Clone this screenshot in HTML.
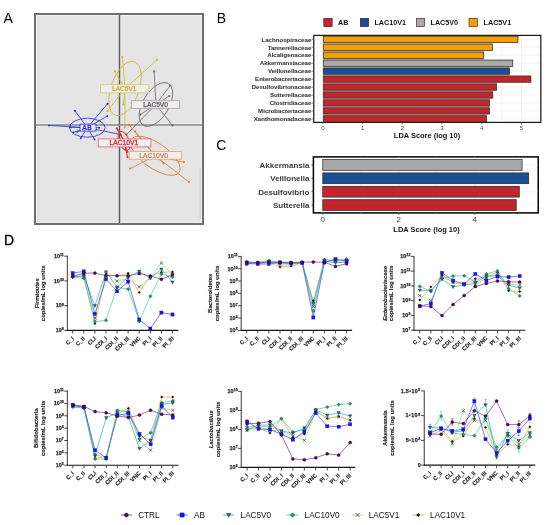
<!DOCTYPE html>
<html><head><meta charset="utf-8"><title>Figure</title>
<style>
html,body{margin:0;padding:0;background:#fff;}
body{width:550px;height:525px;overflow:hidden;}
svg{display:block;font-family:"Liberation Sans",sans-serif;}
</style></head><body>
<svg width="550" height="525" viewBox="0 0 550 525">
<text x="3.60" y="22.70" font-size="14" text-anchor="start" font-weight="normal" font-style="normal" fill="#000" >A</text>
<text x="216.80" y="23.20" font-size="14" text-anchor="start" font-weight="normal" font-style="normal" fill="#000" >B</text>
<text x="216.20" y="149.60" font-size="14" text-anchor="start" font-weight="normal" font-style="normal" fill="#000" >C</text>
<text x="4.00" y="245.20" font-size="14" text-anchor="start" font-weight="normal" font-style="normal" fill="#000" stroke="#000" stroke-width="0.3">D</text>
<rect x="35" y="14" width="168" height="210" fill="#e5e5e5" stroke="#6f6f6f" stroke-width="2"/>
<rect x="36.5" y="15.5" width="165" height="207" fill="none" stroke="#f2f2f2" stroke-width="1"/>
<line x1="200.3" y1="168" x2="200.3" y2="219" stroke="#c8c8c8" stroke-width="0.8"/>
<line x1="118.3" y1="15" x2="118.3" y2="223" stroke="#f0f0f0" stroke-width="0.7"/>
<line x1="120.7" y1="15" x2="120.7" y2="223" stroke="#f0f0f0" stroke-width="0.7"/>
<line x1="36" y1="123.6" x2="202" y2="123.6" stroke="#f2f2f2" stroke-width="0.7"/>
<line x1="36" y1="126.4" x2="202" y2="126.4" stroke="#f2f2f2" stroke-width="0.7"/>
<line x1="119.5" y1="15" x2="119.5" y2="223" stroke="#5a5a5a" stroke-width="1.5"/>
<line x1="36" y1="125.0" x2="202" y2="125.0" stroke="#8a8a8a" stroke-width="1.6"/>
<ellipse cx="125.0" cy="88.5" rx="14" ry="28.4" transform="rotate(19.5 125.0 88.5)" fill="none" stroke="#d4b52c" stroke-width="0.8"/>
<line x1="125.0" y1="88.5" x2="122.4" y2="56.9" stroke="#d4b52c" stroke-width="0.8"/>
<line x1="125.0" y1="88.5" x2="157.1" y2="59.8" stroke="#d4b52c" stroke-width="0.8"/>
<line x1="125.0" y1="88.5" x2="114.9" y2="71.3" stroke="#d4b52c" stroke-width="0.8"/>
<line x1="125.0" y1="88.5" x2="107.4" y2="111.2" stroke="#d4b52c" stroke-width="0.8"/>
<line x1="125.0" y1="88.5" x2="123.3" y2="104.5" stroke="#d4b52c" stroke-width="0.8"/>
<line x1="125.0" y1="88.5" x2="124.8" y2="127.4" stroke="#d4b52c" stroke-width="0.8"/>
<circle cx="122.4" cy="56.9" r="1.1" fill="#d4b52c"/>
<circle cx="157.1" cy="59.8" r="1.1" fill="#d4b52c"/>
<circle cx="114.9" cy="71.3" r="1.1" fill="#d4b52c"/>
<circle cx="107.4" cy="111.2" r="1.1" fill="#d4b52c"/>
<circle cx="123.3" cy="104.5" r="1.1" fill="#d4b52c"/>
<circle cx="124.8" cy="127.4" r="1.1" fill="#d4b52c"/>
<ellipse cx="155.9" cy="104.5" rx="13" ry="24.3" transform="rotate(31 155.9 104.5)" fill="none" stroke="#6e666e" stroke-width="0.8"/>
<line x1="155.9" y1="104.5" x2="154.2" y2="71.3" stroke="#6e666e" stroke-width="0.8"/>
<line x1="155.9" y1="104.5" x2="170.2" y2="85.5" stroke="#6e666e" stroke-width="0.8"/>
<line x1="155.9" y1="104.5" x2="169.2" y2="96" stroke="#6e666e" stroke-width="0.8"/>
<line x1="155.9" y1="104.5" x2="140.4" y2="114.6" stroke="#6e666e" stroke-width="0.8"/>
<line x1="155.9" y1="104.5" x2="172.4" y2="125.4" stroke="#6e666e" stroke-width="0.8"/>
<line x1="155.9" y1="104.5" x2="126.5" y2="134.5" stroke="#6e666e" stroke-width="0.8"/>
<circle cx="154.2" cy="71.3" r="1.1" fill="#6e666e"/>
<circle cx="170.2" cy="85.5" r="1.1" fill="#6e666e"/>
<circle cx="169.2" cy="96" r="1.1" fill="#6e666e"/>
<circle cx="140.4" cy="114.6" r="1.1" fill="#6e666e"/>
<circle cx="172.4" cy="125.4" r="1.1" fill="#6e666e"/>
<circle cx="126.5" cy="134.5" r="1.1" fill="#6e666e"/>
<ellipse cx="87.3" cy="127.7" rx="17.8" ry="9.5" transform="rotate(0 87.3 127.7)" fill="none" stroke="#2b2bd6" stroke-width="0.8"/>
<line x1="87.3" y1="127.7" x2="49" y2="125.5" stroke="#2b2bd6" stroke-width="0.8"/>
<line x1="87.3" y1="127.7" x2="74.9" y2="110.7" stroke="#2b2bd6" stroke-width="0.8"/>
<line x1="87.3" y1="127.7" x2="107.6" y2="103.7" stroke="#2b2bd6" stroke-width="0.8"/>
<line x1="87.3" y1="127.7" x2="107.2" y2="116.1" stroke="#2b2bd6" stroke-width="0.8"/>
<line x1="87.3" y1="127.7" x2="69.8" y2="127.3" stroke="#2b2bd6" stroke-width="0.8"/>
<line x1="87.3" y1="127.7" x2="73.2" y2="132.5" stroke="#2b2bd6" stroke-width="0.8"/>
<line x1="87.3" y1="127.7" x2="77.1" y2="131.7" stroke="#2b2bd6" stroke-width="0.8"/>
<line x1="87.3" y1="127.7" x2="80.7" y2="138.3" stroke="#2b2bd6" stroke-width="0.8"/>
<line x1="87.3" y1="127.7" x2="94.5" y2="139.4" stroke="#2b2bd6" stroke-width="0.8"/>
<line x1="87.3" y1="127.7" x2="99.3" y2="127.7" stroke="#2b2bd6" stroke-width="0.8"/>
<line x1="87.3" y1="127.7" x2="120.5" y2="134.5" stroke="#2b2bd6" stroke-width="0.8"/>
<circle cx="49" cy="125.5" r="1.0" fill="#2b2bd6"/>
<circle cx="74.9" cy="110.7" r="1.0" fill="#2b2bd6"/>
<circle cx="107.6" cy="103.7" r="1.0" fill="#2b2bd6"/>
<circle cx="107.2" cy="116.1" r="1.0" fill="#2b2bd6"/>
<circle cx="69.8" cy="127.3" r="1.0" fill="#2b2bd6"/>
<circle cx="73.2" cy="132.5" r="1.0" fill="#2b2bd6"/>
<circle cx="77.1" cy="131.7" r="1.0" fill="#2b2bd6"/>
<circle cx="80.7" cy="138.3" r="1.0" fill="#2b2bd6"/>
<circle cx="94.5" cy="139.4" r="1.0" fill="#2b2bd6"/>
<circle cx="99.3" cy="127.7" r="1.0" fill="#2b2bd6"/>
<circle cx="120.5" cy="134.5" r="1.0" fill="#2b2bd6"/>
<ellipse cx="155.3" cy="155.8" rx="29" ry="12.5" transform="rotate(35 155.3 155.8)" fill="none" stroke="#e07b30" stroke-width="0.8"/>
<line x1="155.3" y1="155.8" x2="128.8" y2="124.8" stroke="#e07b30" stroke-width="0.8"/>
<line x1="155.3" y1="155.8" x2="135.2" y2="131.5" stroke="#e07b30" stroke-width="0.8"/>
<line x1="155.3" y1="155.8" x2="130.1" y2="168.6" stroke="#e07b30" stroke-width="0.8"/>
<line x1="155.3" y1="155.8" x2="163.5" y2="163.5" stroke="#e07b30" stroke-width="0.8"/>
<line x1="155.3" y1="155.8" x2="183.9" y2="162.1" stroke="#e07b30" stroke-width="0.8"/>
<line x1="155.3" y1="155.8" x2="189" y2="182" stroke="#e07b30" stroke-width="0.8"/>
<circle cx="128.8" cy="124.8" r="1.1" fill="#e07b30"/>
<circle cx="135.2" cy="131.5" r="1.1" fill="#e07b30"/>
<circle cx="130.1" cy="168.6" r="1.1" fill="#e07b30"/>
<circle cx="163.5" cy="163.5" r="1.1" fill="#e07b30"/>
<circle cx="183.9" cy="162.1" r="1.1" fill="#e07b30"/>
<circle cx="189" cy="182" r="1.1" fill="#e07b30"/>
<ellipse cx="124.0" cy="141" rx="5" ry="10" transform="rotate(-22 124.0 141)" fill="none" stroke="#d8383c" stroke-width="1.0"/>
<line x1="124.0" y1="141" x2="116.9" y2="128.4" stroke="#d8383c" stroke-width="1.0"/>
<line x1="124.0" y1="141" x2="118.3" y2="130.5" stroke="#d8383c" stroke-width="1.0"/>
<line x1="124.0" y1="141" x2="120.3" y2="134.5" stroke="#d8383c" stroke-width="1.0"/>
<line x1="124.0" y1="141" x2="130.2" y2="147" stroke="#d8383c" stroke-width="1.0"/>
<line x1="124.0" y1="141" x2="127.5" y2="152" stroke="#d8383c" stroke-width="1.0"/>
<line x1="124.0" y1="141" x2="127.5" y2="157.3" stroke="#d8383c" stroke-width="1.0"/>
<line x1="124.0" y1="141" x2="126" y2="149.5" stroke="#d8383c" stroke-width="1.0"/>
<circle cx="116.9" cy="128.4" r="1.1" fill="#d8383c"/>
<circle cx="118.3" cy="130.5" r="1.1" fill="#d8383c"/>
<circle cx="120.3" cy="134.5" r="1.1" fill="#d8383c"/>
<circle cx="130.2" cy="147" r="1.1" fill="#d8383c"/>
<circle cx="127.5" cy="152" r="1.1" fill="#d8383c"/>
<circle cx="127.5" cy="157.3" r="1.1" fill="#d8383c"/>
<circle cx="126" cy="149.5" r="1.1" fill="#d8383c"/>
<rect x="100.6" y="84.7" width="48.30000000000001" height="8.200000000000003" fill="#efefef" stroke="#dcc660" stroke-width="0.8"/>
<text x="112.1" y="91.20" font-size="6.7" fill="#c8ad30" textLength="24.5" lengthAdjust="spacing" stroke="#c8ad30" stroke-width="0.25">LAC5V1</text>
<rect x="131.3" y="100.7" width="48.29999999999998" height="7.700000000000003" fill="#efefef" stroke="#a8a2a8" stroke-width="0.8"/>
<text x="143.3" y="106.95" font-size="6.7" fill="#5a545a" textLength="24.7" lengthAdjust="spacing" stroke="#5a545a" stroke-width="0.25">LAC5V0</text>
<rect x="80" y="124.1" width="16" height="7.0" fill="#efefef" stroke="#2b2bd6" stroke-width="0.8"/>
<text x="82.2" y="130.00" font-size="6.7" fill="#3030c8" textLength="9.4" lengthAdjust="spacing" stroke="#3030c8" stroke-width="0.4">AB</text>
<rect x="98.2" y="138.9" width="52.8" height="8.0" fill="#efefef" stroke="#e06070" stroke-width="0.8"/>
<text x="109.5" y="145.30" font-size="6.7" fill="#d23040" textLength="28.8" lengthAdjust="spacing" stroke="#d23040" stroke-width="0.35">LAC10V1</text>
<rect x="129.1" y="151.6" width="52.30000000000001" height="7.599999999999994" fill="#efefef" stroke="#e8a070" stroke-width="0.8"/>
<text x="139.3" y="157.80" font-size="6.7" fill="#d47a48" textLength="28.6" lengthAdjust="spacing" stroke="#d47a48" stroke-width="0.2">LAC10V0</text>
<rect x="323.8" y="18.3" width="8.4" height="8.4" fill="#c0262c" stroke="#3a1a1a" stroke-width="0.6"/>
<text x="338.00" y="25.00" font-size="7.2" text-anchor="start" font-weight="bold" font-style="normal" fill="#151515" >AB</text>
<rect x="360.3" y="18.3" width="8.4" height="8.4" fill="#1b4f95" stroke="#3a1a1a" stroke-width="0.6"/>
<text x="374.40" y="25.00" font-size="7.2" text-anchor="start" font-weight="bold" font-style="normal" fill="#151515" >LAC10V1</text>
<rect x="416.3" y="18.3" width="8.4" height="8.4" fill="#a9a9a9" stroke="#3a1a1a" stroke-width="0.6"/>
<text x="430.50" y="25.00" font-size="7.2" text-anchor="start" font-weight="bold" font-style="normal" fill="#151515" >LAC5V0</text>
<rect x="469.0" y="18.3" width="8.4" height="8.4" fill="#f3a008" stroke="#3a1a1a" stroke-width="0.6"/>
<text x="483.60" y="25.00" font-size="7.2" text-anchor="start" font-weight="bold" font-style="normal" fill="#151515" >LAC5V1</text>
<rect x="313.8" y="35.4" width="227" height="87" fill="#fff" stroke="#1a1a1a" stroke-width="1.25"/>
<line x1="322.90" y1="36" x2="322.90" y2="122" stroke="#ececec" stroke-width="0.8"/>
<line x1="342.75" y1="36" x2="342.75" y2="122" stroke="#ececec" stroke-width="0.5"/>
<line x1="362.60" y1="36" x2="362.60" y2="122" stroke="#ececec" stroke-width="0.8"/>
<line x1="382.45" y1="36" x2="382.45" y2="122" stroke="#ececec" stroke-width="0.5"/>
<line x1="402.30" y1="36" x2="402.30" y2="122" stroke="#ececec" stroke-width="0.8"/>
<line x1="422.15" y1="36" x2="422.15" y2="122" stroke="#ececec" stroke-width="0.5"/>
<line x1="442.00" y1="36" x2="442.00" y2="122" stroke="#ececec" stroke-width="0.8"/>
<line x1="461.85" y1="36" x2="461.85" y2="122" stroke="#ececec" stroke-width="0.5"/>
<line x1="481.70" y1="36" x2="481.70" y2="122" stroke="#ececec" stroke-width="0.8"/>
<line x1="501.55" y1="36" x2="501.55" y2="122" stroke="#ececec" stroke-width="0.5"/>
<line x1="521.40" y1="36" x2="521.40" y2="122" stroke="#ececec" stroke-width="0.8"/>
<rect x="323.30" y="42.50" width="169.20" height="1.65" fill="#c4ccd8"/>
<rect x="323.30" y="50.45" width="160.40" height="1.65" fill="#c4ccd8"/>
<rect x="323.30" y="58.40" width="160.40" height="1.65" fill="#c4ccd8"/>
<rect x="323.30" y="66.35" width="186.30" height="1.65" fill="#c4ccd8"/>
<rect x="323.30" y="74.30" width="186.30" height="1.65" fill="#c4ccd8"/>
<rect x="323.30" y="82.25" width="173.40" height="1.65" fill="#c4ccd8"/>
<rect x="323.30" y="90.20" width="169.50" height="1.65" fill="#c4ccd8"/>
<rect x="323.30" y="98.15" width="166.30" height="1.65" fill="#c4ccd8"/>
<rect x="323.30" y="106.10" width="166.30" height="1.65" fill="#c4ccd8"/>
<rect x="323.30" y="114.05" width="163.30" height="1.65" fill="#c4ccd8"/>
<line x1="314" y1="39.35" x2="540" y2="39.35" stroke="#ececec" stroke-width="0.6"/>
<rect x="323.30" y="36.20" width="194.70" height="6.3" fill="#f3a008" stroke="#3a2c22" stroke-width="0.75"/>
<line x1="311.6" y1="39.35" x2="313.8" y2="39.35" stroke="#333" stroke-width="0.6"/>
<text x="311.30" y="41.55" font-size="6.1" text-anchor="end" font-weight="bold" font-style="normal" fill="#383838" stroke="#383838" stroke-width="0.08">Lachnospiraceae</text>
<line x1="314" y1="47.30" x2="540" y2="47.30" stroke="#ececec" stroke-width="0.6"/>
<rect x="323.30" y="44.15" width="169.20" height="6.3" fill="#f3a008" stroke="#3a2c22" stroke-width="0.75"/>
<line x1="311.6" y1="47.30" x2="313.8" y2="47.30" stroke="#333" stroke-width="0.6"/>
<text x="311.30" y="49.50" font-size="6.1" text-anchor="end" font-weight="bold" font-style="normal" fill="#383838" stroke="#383838" stroke-width="0.08">Tannerellaceae</text>
<line x1="314" y1="55.25" x2="540" y2="55.25" stroke="#ececec" stroke-width="0.6"/>
<rect x="323.30" y="52.10" width="160.40" height="6.3" fill="#f3a008" stroke="#3a2c22" stroke-width="0.75"/>
<line x1="311.6" y1="55.25" x2="313.8" y2="55.25" stroke="#333" stroke-width="0.6"/>
<text x="311.30" y="57.45" font-size="6.1" text-anchor="end" font-weight="bold" font-style="normal" fill="#383838" stroke="#383838" stroke-width="0.08">Alcaligenaceae</text>
<line x1="314" y1="63.20" x2="540" y2="63.20" stroke="#ececec" stroke-width="0.6"/>
<rect x="323.30" y="60.05" width="189.50" height="6.3" fill="#a9a9a9" stroke="#3a2c22" stroke-width="0.75"/>
<line x1="311.6" y1="63.20" x2="313.8" y2="63.20" stroke="#333" stroke-width="0.6"/>
<text x="311.30" y="65.40" font-size="6.1" text-anchor="end" font-weight="bold" font-style="normal" fill="#383838" stroke="#383838" stroke-width="0.08">Akkermansiaceae</text>
<line x1="314" y1="71.15" x2="540" y2="71.15" stroke="#ececec" stroke-width="0.6"/>
<rect x="323.30" y="68.00" width="186.30" height="6.3" fill="#1b4f95" stroke="#3a2c22" stroke-width="0.75"/>
<line x1="311.6" y1="71.15" x2="313.8" y2="71.15" stroke="#333" stroke-width="0.6"/>
<text x="311.30" y="73.35" font-size="6.1" text-anchor="end" font-weight="bold" font-style="normal" fill="#383838" stroke="#383838" stroke-width="0.08">Veillonellaceae</text>
<line x1="314" y1="79.10" x2="540" y2="79.10" stroke="#ececec" stroke-width="0.6"/>
<rect x="323.30" y="75.95" width="207.60" height="6.3" fill="#c0262c" stroke="#3a2c22" stroke-width="0.75"/>
<line x1="311.6" y1="79.10" x2="313.8" y2="79.10" stroke="#333" stroke-width="0.6"/>
<text x="311.30" y="81.30" font-size="6.1" text-anchor="end" font-weight="bold" font-style="normal" fill="#383838" stroke="#383838" stroke-width="0.08">Enterobacteriaceae</text>
<line x1="314" y1="87.05" x2="540" y2="87.05" stroke="#ececec" stroke-width="0.6"/>
<rect x="323.30" y="83.90" width="173.40" height="6.3" fill="#c0262c" stroke="#3a2c22" stroke-width="0.75"/>
<line x1="311.6" y1="87.05" x2="313.8" y2="87.05" stroke="#333" stroke-width="0.6"/>
<text x="311.30" y="89.25" font-size="6.1" text-anchor="end" font-weight="bold" font-style="normal" fill="#383838" stroke="#383838" stroke-width="0.08">Desulfovibrionaceae</text>
<line x1="314" y1="95.00" x2="540" y2="95.00" stroke="#ececec" stroke-width="0.6"/>
<rect x="323.30" y="91.85" width="169.50" height="6.3" fill="#c0262c" stroke="#3a2c22" stroke-width="0.75"/>
<line x1="311.6" y1="95.00" x2="313.8" y2="95.00" stroke="#333" stroke-width="0.6"/>
<text x="311.30" y="97.20" font-size="6.1" text-anchor="end" font-weight="bold" font-style="normal" fill="#383838" stroke="#383838" stroke-width="0.08">Sutterellaceae</text>
<line x1="314" y1="102.95" x2="540" y2="102.95" stroke="#ececec" stroke-width="0.6"/>
<rect x="323.30" y="99.80" width="166.30" height="6.3" fill="#c0262c" stroke="#3a2c22" stroke-width="0.75"/>
<line x1="311.6" y1="102.95" x2="313.8" y2="102.95" stroke="#333" stroke-width="0.6"/>
<text x="311.30" y="105.15" font-size="6.1" text-anchor="end" font-weight="bold" font-style="normal" fill="#383838" stroke="#383838" stroke-width="0.08">Clostridiaceae</text>
<line x1="314" y1="110.90" x2="540" y2="110.90" stroke="#ececec" stroke-width="0.6"/>
<rect x="323.30" y="107.75" width="166.30" height="6.3" fill="#c0262c" stroke="#3a2c22" stroke-width="0.75"/>
<line x1="311.6" y1="110.90" x2="313.8" y2="110.90" stroke="#333" stroke-width="0.6"/>
<text x="311.30" y="113.10" font-size="6.1" text-anchor="end" font-weight="bold" font-style="normal" fill="#383838" stroke="#383838" stroke-width="0.08">Microbacteriaceae</text>
<line x1="314" y1="118.85" x2="540" y2="118.85" stroke="#ececec" stroke-width="0.6"/>
<rect x="323.30" y="115.70" width="163.30" height="6.3" fill="#c0262c" stroke="#3a2c22" stroke-width="0.75"/>
<line x1="311.6" y1="118.85" x2="313.8" y2="118.85" stroke="#333" stroke-width="0.6"/>
<text x="311.30" y="121.05" font-size="6.1" text-anchor="end" font-weight="bold" font-style="normal" fill="#383838" stroke="#383838" stroke-width="0.08">Xanthomonadaceae</text>
<line x1="322.90" y1="122.4" x2="322.90" y2="124.4" stroke="#333" stroke-width="0.6"/>
<text x="322.90" y="130.00" font-size="6.0" text-anchor="middle" font-weight="normal" font-style="normal" fill="#444" >0</text>
<line x1="362.60" y1="122.4" x2="362.60" y2="124.4" stroke="#333" stroke-width="0.6"/>
<text x="362.60" y="130.00" font-size="6.0" text-anchor="middle" font-weight="normal" font-style="normal" fill="#444" >1</text>
<line x1="402.30" y1="122.4" x2="402.30" y2="124.4" stroke="#333" stroke-width="0.6"/>
<text x="402.30" y="130.00" font-size="6.0" text-anchor="middle" font-weight="normal" font-style="normal" fill="#444" >2</text>
<line x1="442.00" y1="122.4" x2="442.00" y2="124.4" stroke="#333" stroke-width="0.6"/>
<text x="442.00" y="130.00" font-size="6.0" text-anchor="middle" font-weight="normal" font-style="normal" fill="#444" >3</text>
<line x1="481.70" y1="122.4" x2="481.70" y2="124.4" stroke="#333" stroke-width="0.6"/>
<text x="481.70" y="130.00" font-size="6.0" text-anchor="middle" font-weight="normal" font-style="normal" fill="#444" >4</text>
<line x1="521.40" y1="122.4" x2="521.40" y2="124.4" stroke="#333" stroke-width="0.6"/>
<text x="521.40" y="130.00" font-size="6.0" text-anchor="middle" font-weight="normal" font-style="normal" fill="#444" >5</text>
<text x="427.00" y="138.40" font-size="7.45" text-anchor="middle" font-weight="bold" font-style="normal" fill="#111" >LDA Score (log 10)</text>
<rect x="313.4" y="156.9" width="224.8" height="56" fill="#fff" stroke="#000" stroke-width="1.5"/>
<line x1="322.80" y1="157.5" x2="322.80" y2="212.5" stroke="#ededed" stroke-width="0.8"/>
<line x1="360.80" y1="157.5" x2="360.80" y2="212.5" stroke="#ededed" stroke-width="0.5"/>
<line x1="398.80" y1="157.5" x2="398.80" y2="212.5" stroke="#ededed" stroke-width="0.8"/>
<line x1="436.80" y1="157.5" x2="436.80" y2="212.5" stroke="#ededed" stroke-width="0.5"/>
<line x1="474.80" y1="157.5" x2="474.80" y2="212.5" stroke="#ededed" stroke-width="0.8"/>
<line x1="512.80" y1="157.5" x2="512.80" y2="212.5" stroke="#ededed" stroke-width="0.5"/>
<line x1="314" y1="164.90" x2="538" y2="164.90" stroke="#ededed" stroke-width="0.6"/>
<rect x="322.80" y="159.50" width="199.30" height="10.8" fill="#a9a9a9" stroke="#2a1f1f" stroke-width="0.7"/>
<line x1="311.2" y1="164.90" x2="313.4" y2="164.90" stroke="#333" stroke-width="0.6"/>
<text x="309.40" y="167.80" font-size="8.0" text-anchor="end" font-weight="bold" font-style="normal" fill="#3a3a3a" >Akkermansia</text>
<line x1="314" y1="178.30" x2="538" y2="178.30" stroke="#ededed" stroke-width="0.6"/>
<rect x="322.80" y="172.90" width="205.90" height="10.8" fill="#1b4f95" stroke="#2a1f1f" stroke-width="0.7"/>
<line x1="311.2" y1="178.30" x2="313.4" y2="178.30" stroke="#333" stroke-width="0.6"/>
<text x="309.40" y="181.20" font-size="8.0" text-anchor="end" font-weight="bold" font-style="normal" fill="#3a3a3a" >Veillonella</text>
<line x1="314" y1="191.70" x2="538" y2="191.70" stroke="#ededed" stroke-width="0.6"/>
<rect x="322.80" y="186.30" width="196.50" height="10.8" fill="#c0262c" stroke="#2a1f1f" stroke-width="0.7"/>
<line x1="311.2" y1="191.70" x2="313.4" y2="191.70" stroke="#333" stroke-width="0.6"/>
<text x="309.40" y="194.60" font-size="8.0" text-anchor="end" font-weight="bold" font-style="normal" fill="#3a3a3a" >Desulfovibrio</text>
<line x1="314" y1="205.10" x2="538" y2="205.10" stroke="#ededed" stroke-width="0.6"/>
<rect x="322.80" y="199.70" width="193.40" height="10.8" fill="#c0262c" stroke="#2a1f1f" stroke-width="0.7"/>
<line x1="311.2" y1="205.10" x2="313.4" y2="205.10" stroke="#333" stroke-width="0.6"/>
<text x="309.40" y="208.00" font-size="8.0" text-anchor="end" font-weight="bold" font-style="normal" fill="#3a3a3a" >Sutterella</text>
<line x1="322.80" y1="212.9" x2="322.80" y2="215" stroke="#333" stroke-width="0.6"/>
<text x="322.80" y="222.40" font-size="7.9" text-anchor="middle" font-weight="normal" font-style="normal" fill="#404040" >0</text>
<line x1="398.80" y1="212.9" x2="398.80" y2="215" stroke="#333" stroke-width="0.6"/>
<text x="398.80" y="222.40" font-size="7.9" text-anchor="middle" font-weight="normal" font-style="normal" fill="#404040" >2</text>
<line x1="474.80" y1="212.9" x2="474.80" y2="215" stroke="#333" stroke-width="0.6"/>
<text x="474.80" y="222.40" font-size="7.9" text-anchor="middle" font-weight="normal" font-style="normal" fill="#404040" >4</text>
<text x="426.50" y="232.20" font-size="7.45" text-anchor="middle" font-weight="bold" font-style="normal" fill="#111" >LDA Score (log 10)</text>
<line x1="67.40" y1="255.70" x2="67.40" y2="330.90" stroke="#5e5e5e" stroke-width="1.25"/>
<line x1="66.90" y1="330.40" x2="178.30" y2="330.40" stroke="#151515" stroke-width="1.15"/>
<line x1="64.30" y1="256.20" x2="67.40" y2="256.20" stroke="#333" stroke-width="0.9"/>
<text x="63.80" y="258.00" font-size="5.4" text-anchor="end" font-weight="bold" fill="#2a2a2a" stroke="#2a2a2a" stroke-width="0.25">10<tspan font-size="3.5" dy="-1.9" dx="0.2">11</tspan></text>
<line x1="64.30" y1="280.93" x2="67.40" y2="280.93" stroke="#333" stroke-width="0.9"/>
<text x="63.80" y="282.73" font-size="5.4" text-anchor="end" font-weight="bold" fill="#2a2a2a" stroke="#2a2a2a" stroke-width="0.25">10<tspan font-size="3.5" dy="-1.9" dx="0.2">10</tspan></text>
<line x1="64.30" y1="305.66" x2="67.40" y2="305.66" stroke="#333" stroke-width="0.9"/>
<text x="63.80" y="307.46" font-size="5.4" text-anchor="end" font-weight="bold" fill="#2a2a2a" stroke="#2a2a2a" stroke-width="0.25">10<tspan font-size="3.5" dy="-1.9" dx="0.2">9</tspan></text>
<line x1="64.30" y1="330.39" x2="67.40" y2="330.39" stroke="#333" stroke-width="0.9"/>
<text x="63.80" y="332.19" font-size="5.4" text-anchor="end" font-weight="bold" fill="#2a2a2a" stroke="#2a2a2a" stroke-width="0.25">10<tspan font-size="3.5" dy="-1.9" dx="0.2">8</tspan></text>
<line x1="72.70" y1="330.40" x2="72.70" y2="333.50" stroke="#333" stroke-width="0.9"/>
<text x="0" y="0" font-size="5.7" text-anchor="end" font-weight="bold" fill="#222" stroke="#222" stroke-width="0.15" transform="translate(74.25,338.90) rotate(-45)">C_I</text>
<line x1="83.79" y1="330.40" x2="83.79" y2="333.50" stroke="#333" stroke-width="0.9"/>
<text x="0" y="0" font-size="5.7" text-anchor="end" font-weight="bold" fill="#222" stroke="#222" stroke-width="0.15" transform="translate(85.34,338.90) rotate(-45)">C_II</text>
<line x1="94.88" y1="330.40" x2="94.88" y2="333.50" stroke="#333" stroke-width="0.9"/>
<text x="0" y="0" font-size="5.7" text-anchor="end" font-weight="bold" fill="#222" stroke="#222" stroke-width="0.15" transform="translate(96.43,338.90) rotate(-45)">CLI</text>
<line x1="105.97" y1="330.40" x2="105.97" y2="333.50" stroke="#333" stroke-width="0.9"/>
<text x="0" y="0" font-size="5.7" text-anchor="end" font-weight="bold" fill="#222" stroke="#222" stroke-width="0.15" transform="translate(107.52,338.90) rotate(-45)">CDI_I</text>
<line x1="117.06" y1="330.40" x2="117.06" y2="333.50" stroke="#333" stroke-width="0.9"/>
<text x="0" y="0" font-size="5.7" text-anchor="end" font-weight="bold" fill="#222" stroke="#222" stroke-width="0.15" transform="translate(118.61,338.90) rotate(-45)">CDI_II</text>
<line x1="128.15" y1="330.40" x2="128.15" y2="333.50" stroke="#333" stroke-width="0.9"/>
<text x="0" y="0" font-size="5.7" text-anchor="end" font-weight="bold" fill="#222" stroke="#222" stroke-width="0.15" transform="translate(129.70,338.90) rotate(-45)">CDI_III</text>
<line x1="139.24" y1="330.40" x2="139.24" y2="333.50" stroke="#333" stroke-width="0.9"/>
<text x="0" y="0" font-size="5.7" text-anchor="end" font-weight="bold" fill="#222" stroke="#222" stroke-width="0.15" transform="translate(140.79,338.90) rotate(-45)">VNC</text>
<line x1="150.33" y1="330.40" x2="150.33" y2="333.50" stroke="#333" stroke-width="0.9"/>
<text x="0" y="0" font-size="5.7" text-anchor="end" font-weight="bold" fill="#222" stroke="#222" stroke-width="0.15" transform="translate(151.88,338.90) rotate(-45)">PI_I</text>
<line x1="161.42" y1="330.40" x2="161.42" y2="333.50" stroke="#333" stroke-width="0.9"/>
<text x="0" y="0" font-size="5.7" text-anchor="end" font-weight="bold" fill="#222" stroke="#222" stroke-width="0.15" transform="translate(162.97,338.90) rotate(-45)">PI_II</text>
<line x1="172.51" y1="330.40" x2="172.51" y2="333.50" stroke="#333" stroke-width="0.9"/>
<text x="0" y="0" font-size="5.7" text-anchor="end" font-weight="bold" fill="#222" stroke="#222" stroke-width="0.15" transform="translate(174.06,338.90) rotate(-45)">PI_III</text>
<text x="0" y="0" font-size="5.95" text-anchor="middle" font-weight="bold" font-style="normal" fill="#222" stroke="#222" stroke-width="0.12" transform="translate(38.60,293.30) rotate(-90)">Firmicutes</text>
<text x="0" y="0" font-size="5.95" text-anchor="middle" font-weight="bold" fill="#222" stroke="#222" stroke-width="0.12" transform="translate(45.30,293.30) rotate(-90)">copies/mL log units</text>
<polyline points="72.70,275.00 83.79,275.00 94.88,323.60 105.97,274.00 117.06,276.00 128.15,273.20 139.24,292.40 150.33,276.00 161.42,272.30 172.51,272.00" fill="none" stroke="#f6a24a" stroke-width="0.72"/>
<polyline points="72.70,276.00 83.79,277.00 94.88,318.00 105.97,274.00 117.06,280.90 128.15,279.00 139.24,286.90 150.33,278.00 161.42,262.90 172.51,275.00" fill="none" stroke="#94e27c" stroke-width="0.72"/>
<polyline points="72.70,277.00 83.79,278.30 94.88,321.60 105.97,320.30 117.06,287.40 128.15,289.10 139.24,321.20 150.33,296.30 161.42,274.00 172.51,277.10" fill="none" stroke="#4cc9a0" stroke-width="0.72"/>
<polyline points="72.70,277.00 83.79,276.00 94.88,305.80 105.97,272.00 117.06,287.20 128.15,277.00 139.24,271.40 150.33,278.30 161.42,269.20 172.51,282.20" fill="none" stroke="#36aebe" stroke-width="0.72"/>
<polyline points="72.70,273.10 83.79,271.40 94.88,313.90 105.97,279.20 117.06,291.30 128.15,281.70 139.24,319.50 150.33,328.60 161.42,312.60 172.51,314.50" fill="none" stroke="#4a4af5" stroke-width="0.72"/>
<polyline points="72.70,276.50 83.79,273.10 94.88,273.10 105.97,275.70 117.06,275.70 128.15,275.70 139.24,273.50 150.33,276.00 161.42,279.20 172.51,274.50" fill="none" stroke="#7b3b8b" stroke-width="0.72"/>
<path d="M72.70,273.48L73.38,274.32L74.22,275.00L73.38,275.68L72.70,276.52L72.02,275.68L71.18,275.00L72.02,274.32Z" fill="#111"/>
<path d="M83.79,273.48L84.47,274.32L85.31,275.00L84.47,275.68L83.79,276.52L83.11,275.68L82.27,275.00L83.11,274.32Z" fill="#111"/>
<path d="M94.88,322.08L95.56,322.92L96.40,323.60L95.56,324.28L94.88,325.12L94.20,324.28L93.36,323.60L94.20,322.92Z" fill="#111"/>
<path d="M105.97,272.48L106.65,273.32L107.49,274.00L106.65,274.68L105.97,275.52L105.29,274.68L104.45,274.00L105.29,273.32Z" fill="#111"/>
<path d="M117.06,274.48L117.74,275.32L118.58,276.00L117.74,276.68L117.06,277.52L116.38,276.68L115.54,276.00L116.38,275.32Z" fill="#111"/>
<path d="M128.15,271.68L128.83,272.52L129.67,273.20L128.83,273.88L128.15,274.72L127.47,273.88L126.63,273.20L127.47,272.52Z" fill="#111"/>
<path d="M139.24,290.88L139.92,291.72L140.76,292.40L139.92,293.08L139.24,293.92L138.56,293.08L137.72,292.40L138.56,291.72Z" fill="#111"/>
<path d="M150.33,274.48L151.01,275.32L151.85,276.00L151.01,276.68L150.33,277.52L149.65,276.68L148.81,276.00L149.65,275.32Z" fill="#111"/>
<path d="M161.42,270.78L162.10,271.62L162.94,272.30L162.10,272.98L161.42,273.82L160.74,272.98L159.90,272.30L160.74,271.62Z" fill="#111"/>
<path d="M172.51,270.48L173.19,271.32L174.03,272.00L173.19,272.68L172.51,273.52L171.83,272.68L170.99,272.00L171.83,271.32Z" fill="#111"/>
<path d="M71.18,274.48L74.22,277.52M71.18,277.52L74.22,274.48" stroke="#444" stroke-width="0.75" fill="none"/>
<path d="M82.27,275.48L85.31,278.52M82.27,278.52L85.31,275.48" stroke="#444" stroke-width="0.75" fill="none"/>
<path d="M93.36,316.48L96.40,319.52M93.36,319.52L96.40,316.48" stroke="#444" stroke-width="0.75" fill="none"/>
<path d="M104.45,272.48L107.49,275.52M104.45,275.52L107.49,272.48" stroke="#444" stroke-width="0.75" fill="none"/>
<path d="M115.54,279.38L118.58,282.42M115.54,282.42L118.58,279.38" stroke="#444" stroke-width="0.75" fill="none"/>
<path d="M126.63,277.48L129.67,280.52M126.63,280.52L129.67,277.48" stroke="#444" stroke-width="0.75" fill="none"/>
<path d="M137.72,285.38L140.76,288.42M137.72,288.42L140.76,285.38" stroke="#444" stroke-width="0.75" fill="none"/>
<path d="M148.81,276.48L151.85,279.52M148.81,279.52L151.85,276.48" stroke="#444" stroke-width="0.75" fill="none"/>
<path d="M159.90,261.38L162.94,264.42M159.90,264.42L162.94,261.38" stroke="#444" stroke-width="0.75" fill="none"/>
<path d="M170.99,273.48L174.03,276.52M170.99,276.52L174.03,273.48" stroke="#444" stroke-width="0.75" fill="none"/>
<path d="M72.70,275.32L74.38,277.00L72.70,278.68L71.02,277.00Z" fill="#1f9a6e" stroke="#104030" stroke-width="0.4"/>
<path d="M83.79,276.62L85.47,278.30L83.79,279.98L82.11,278.30Z" fill="#1f9a6e" stroke="#104030" stroke-width="0.4"/>
<path d="M94.88,319.92L96.56,321.60L94.88,323.28L93.20,321.60Z" fill="#1f9a6e" stroke="#104030" stroke-width="0.4"/>
<path d="M105.97,318.62L107.65,320.30L105.97,321.98L104.29,320.30Z" fill="#1f9a6e" stroke="#104030" stroke-width="0.4"/>
<path d="M117.06,285.72L118.74,287.40L117.06,289.08L115.38,287.40Z" fill="#1f9a6e" stroke="#104030" stroke-width="0.4"/>
<path d="M128.15,287.42L129.83,289.10L128.15,290.78L126.47,289.10Z" fill="#1f9a6e" stroke="#104030" stroke-width="0.4"/>
<path d="M139.24,319.52L140.92,321.20L139.24,322.88L137.56,321.20Z" fill="#1f9a6e" stroke="#104030" stroke-width="0.4"/>
<path d="M150.33,294.62L152.01,296.30L150.33,297.98L148.65,296.30Z" fill="#1f9a6e" stroke="#104030" stroke-width="0.4"/>
<path d="M161.42,272.32L163.10,274.00L161.42,275.68L159.74,274.00Z" fill="#1f9a6e" stroke="#104030" stroke-width="0.4"/>
<path d="M172.51,275.42L174.19,277.10L172.51,278.78L170.83,277.10Z" fill="#1f9a6e" stroke="#104030" stroke-width="0.4"/>
<path d="M71.02,275.72L74.38,275.72L72.70,278.76Z" fill="#1f6f78" stroke="#0e3338" stroke-width="0.4"/>
<path d="M82.11,274.72L85.47,274.72L83.79,277.76Z" fill="#1f6f78" stroke="#0e3338" stroke-width="0.4"/>
<path d="M93.20,304.52L96.56,304.52L94.88,307.56Z" fill="#1f6f78" stroke="#0e3338" stroke-width="0.4"/>
<path d="M104.29,270.72L107.65,270.72L105.97,273.76Z" fill="#1f6f78" stroke="#0e3338" stroke-width="0.4"/>
<path d="M115.38,285.92L118.74,285.92L117.06,288.96Z" fill="#1f6f78" stroke="#0e3338" stroke-width="0.4"/>
<path d="M126.47,275.72L129.83,275.72L128.15,278.76Z" fill="#1f6f78" stroke="#0e3338" stroke-width="0.4"/>
<path d="M137.56,270.12L140.92,270.12L139.24,273.16Z" fill="#1f6f78" stroke="#0e3338" stroke-width="0.4"/>
<path d="M148.65,277.02L152.01,277.02L150.33,280.06Z" fill="#1f6f78" stroke="#0e3338" stroke-width="0.4"/>
<path d="M159.74,267.92L163.10,267.92L161.42,270.96Z" fill="#1f6f78" stroke="#0e3338" stroke-width="0.4"/>
<path d="M170.83,280.92L174.19,280.92L172.51,283.96Z" fill="#1f6f78" stroke="#0e3338" stroke-width="0.4"/>
<rect x="71.10" y="271.50" width="3.20" height="3.20" fill="#1414f0" stroke="#0a0aa0" stroke-width="0.3"/>
<rect x="82.19" y="269.80" width="3.20" height="3.20" fill="#1414f0" stroke="#0a0aa0" stroke-width="0.3"/>
<rect x="93.28" y="312.30" width="3.20" height="3.20" fill="#1414f0" stroke="#0a0aa0" stroke-width="0.3"/>
<rect x="104.37" y="277.60" width="3.20" height="3.20" fill="#1414f0" stroke="#0a0aa0" stroke-width="0.3"/>
<rect x="115.46" y="289.70" width="3.20" height="3.20" fill="#1414f0" stroke="#0a0aa0" stroke-width="0.3"/>
<rect x="126.55" y="280.10" width="3.20" height="3.20" fill="#1414f0" stroke="#0a0aa0" stroke-width="0.3"/>
<rect x="137.64" y="317.90" width="3.20" height="3.20" fill="#1414f0" stroke="#0a0aa0" stroke-width="0.3"/>
<rect x="148.73" y="327.00" width="3.20" height="3.20" fill="#1414f0" stroke="#0a0aa0" stroke-width="0.3"/>
<rect x="159.82" y="311.00" width="3.20" height="3.20" fill="#1414f0" stroke="#0a0aa0" stroke-width="0.3"/>
<rect x="170.91" y="312.90" width="3.20" height="3.20" fill="#1414f0" stroke="#0a0aa0" stroke-width="0.3"/>
<circle cx="72.70" cy="276.50" r="1.52" fill="#4d0a59" stroke="#2a0030" stroke-width="0.4"/>
<circle cx="83.79" cy="273.10" r="1.52" fill="#4d0a59" stroke="#2a0030" stroke-width="0.4"/>
<circle cx="94.88" cy="273.10" r="1.52" fill="#4d0a59" stroke="#2a0030" stroke-width="0.4"/>
<circle cx="105.97" cy="275.70" r="1.52" fill="#4d0a59" stroke="#2a0030" stroke-width="0.4"/>
<circle cx="117.06" cy="275.70" r="1.52" fill="#4d0a59" stroke="#2a0030" stroke-width="0.4"/>
<circle cx="128.15" cy="275.70" r="1.52" fill="#4d0a59" stroke="#2a0030" stroke-width="0.4"/>
<circle cx="139.24" cy="273.50" r="1.52" fill="#4d0a59" stroke="#2a0030" stroke-width="0.4"/>
<circle cx="150.33" cy="276.00" r="1.52" fill="#4d0a59" stroke="#2a0030" stroke-width="0.4"/>
<circle cx="161.42" cy="279.20" r="1.52" fill="#4d0a59" stroke="#2a0030" stroke-width="0.4"/>
<circle cx="172.51" cy="274.50" r="1.52" fill="#4d0a59" stroke="#2a0030" stroke-width="0.4"/>
<line x1="241.20" y1="255.90" x2="241.20" y2="330.80" stroke="#5e5e5e" stroke-width="1.25"/>
<line x1="240.70" y1="330.30" x2="352.10" y2="330.30" stroke="#151515" stroke-width="1.15"/>
<line x1="238.10" y1="256.40" x2="241.20" y2="256.40" stroke="#333" stroke-width="0.9"/>
<text x="237.60" y="258.20" font-size="5.4" text-anchor="end" font-weight="bold" fill="#2a2a2a" stroke="#2a2a2a" stroke-width="0.25">10<tspan font-size="3.5" dy="-1.9" dx="0.2">11</tspan></text>
<line x1="238.10" y1="268.72" x2="241.20" y2="268.72" stroke="#333" stroke-width="0.9"/>
<text x="237.60" y="270.52" font-size="5.4" text-anchor="end" font-weight="bold" fill="#2a2a2a" stroke="#2a2a2a" stroke-width="0.25">10<tspan font-size="3.5" dy="-1.9" dx="0.2">10</tspan></text>
<line x1="238.10" y1="281.04" x2="241.20" y2="281.04" stroke="#333" stroke-width="0.9"/>
<text x="237.60" y="282.84" font-size="5.4" text-anchor="end" font-weight="bold" fill="#2a2a2a" stroke="#2a2a2a" stroke-width="0.25">10<tspan font-size="3.5" dy="-1.9" dx="0.2">9</tspan></text>
<line x1="238.10" y1="293.36" x2="241.20" y2="293.36" stroke="#333" stroke-width="0.9"/>
<text x="237.60" y="295.16" font-size="5.4" text-anchor="end" font-weight="bold" fill="#2a2a2a" stroke="#2a2a2a" stroke-width="0.25">10<tspan font-size="3.5" dy="-1.9" dx="0.2">8</tspan></text>
<line x1="238.10" y1="305.68" x2="241.20" y2="305.68" stroke="#333" stroke-width="0.9"/>
<text x="237.60" y="307.48" font-size="5.4" text-anchor="end" font-weight="bold" fill="#2a2a2a" stroke="#2a2a2a" stroke-width="0.25">10<tspan font-size="3.5" dy="-1.9" dx="0.2">7</tspan></text>
<line x1="238.10" y1="318.00" x2="241.20" y2="318.00" stroke="#333" stroke-width="0.9"/>
<text x="237.60" y="319.80" font-size="5.4" text-anchor="end" font-weight="bold" fill="#2a2a2a" stroke="#2a2a2a" stroke-width="0.25">10<tspan font-size="3.5" dy="-1.9" dx="0.2">6</tspan></text>
<line x1="238.10" y1="330.32" x2="241.20" y2="330.32" stroke="#333" stroke-width="0.9"/>
<text x="237.60" y="332.12" font-size="5.4" text-anchor="end" font-weight="bold" fill="#2a2a2a" stroke="#2a2a2a" stroke-width="0.25">10<tspan font-size="3.5" dy="-1.9" dx="0.2">5</tspan></text>
<line x1="246.70" y1="330.30" x2="246.70" y2="333.40" stroke="#333" stroke-width="0.9"/>
<text x="0" y="0" font-size="5.7" text-anchor="end" font-weight="bold" fill="#222" stroke="#222" stroke-width="0.15" transform="translate(248.25,338.80) rotate(-45)">C_I</text>
<line x1="257.80" y1="330.30" x2="257.80" y2="333.40" stroke="#333" stroke-width="0.9"/>
<text x="0" y="0" font-size="5.7" text-anchor="end" font-weight="bold" fill="#222" stroke="#222" stroke-width="0.15" transform="translate(259.35,338.80) rotate(-45)">C_II</text>
<line x1="268.90" y1="330.30" x2="268.90" y2="333.40" stroke="#333" stroke-width="0.9"/>
<text x="0" y="0" font-size="5.7" text-anchor="end" font-weight="bold" fill="#222" stroke="#222" stroke-width="0.15" transform="translate(270.45,338.80) rotate(-45)">CLI</text>
<line x1="280.00" y1="330.30" x2="280.00" y2="333.40" stroke="#333" stroke-width="0.9"/>
<text x="0" y="0" font-size="5.7" text-anchor="end" font-weight="bold" fill="#222" stroke="#222" stroke-width="0.15" transform="translate(281.55,338.80) rotate(-45)">CDI_I</text>
<line x1="291.10" y1="330.30" x2="291.10" y2="333.40" stroke="#333" stroke-width="0.9"/>
<text x="0" y="0" font-size="5.7" text-anchor="end" font-weight="bold" fill="#222" stroke="#222" stroke-width="0.15" transform="translate(292.65,338.80) rotate(-45)">CDI_II</text>
<line x1="302.20" y1="330.30" x2="302.20" y2="333.40" stroke="#333" stroke-width="0.9"/>
<text x="0" y="0" font-size="5.7" text-anchor="end" font-weight="bold" fill="#222" stroke="#222" stroke-width="0.15" transform="translate(303.75,338.80) rotate(-45)">CDI_III</text>
<line x1="313.30" y1="330.30" x2="313.30" y2="333.40" stroke="#333" stroke-width="0.9"/>
<text x="0" y="0" font-size="5.7" text-anchor="end" font-weight="bold" fill="#222" stroke="#222" stroke-width="0.15" transform="translate(314.85,338.80) rotate(-45)">VNC</text>
<line x1="324.40" y1="330.30" x2="324.40" y2="333.40" stroke="#333" stroke-width="0.9"/>
<text x="0" y="0" font-size="5.7" text-anchor="end" font-weight="bold" fill="#222" stroke="#222" stroke-width="0.15" transform="translate(325.95,338.80) rotate(-45)">PI_I</text>
<line x1="335.50" y1="330.30" x2="335.50" y2="333.40" stroke="#333" stroke-width="0.9"/>
<text x="0" y="0" font-size="5.7" text-anchor="end" font-weight="bold" fill="#222" stroke="#222" stroke-width="0.15" transform="translate(337.05,338.80) rotate(-45)">PI_II</text>
<line x1="346.60" y1="330.30" x2="346.60" y2="333.40" stroke="#333" stroke-width="0.9"/>
<text x="0" y="0" font-size="5.7" text-anchor="end" font-weight="bold" fill="#222" stroke="#222" stroke-width="0.15" transform="translate(348.15,338.80) rotate(-45)">PI_III</text>
<text x="0" y="0" font-size="5.95" text-anchor="middle" font-weight="bold" font-style="normal" fill="#222" stroke="#222" stroke-width="0.12" transform="translate(212.10,293.35) rotate(-90)">Bacteroidetes</text>
<text x="0" y="0" font-size="5.95" text-anchor="middle" font-weight="bold" fill="#222" stroke="#222" stroke-width="0.12" transform="translate(219.20,293.35) rotate(-90)">copies/mL log units</text>
<polyline points="246.70,262.00 257.80,263.50 268.90,262.50 280.00,266.90 291.10,266.10 302.20,263.00 313.30,300.70 324.40,260.00 335.50,262.00 346.60,262.00" fill="none" stroke="#f6a24a" stroke-width="0.72"/>
<polyline points="246.70,262.50 257.80,263.50 268.90,262.00 280.00,264.50 291.10,265.00 302.20,263.00 313.30,306.50 324.40,260.50 335.50,260.00 346.60,261.00" fill="none" stroke="#94e27c" stroke-width="0.72"/>
<polyline points="246.70,264.00 257.80,262.50 268.90,260.50 280.00,263.00 291.10,264.00 302.20,262.50 313.30,311.00 324.40,259.50 335.50,261.00 346.60,259.00" fill="none" stroke="#4cc9a0" stroke-width="0.72"/>
<polyline points="246.70,262.50 257.80,263.00 268.90,262.00 280.00,262.50 291.10,263.50 302.20,262.50 313.30,303.50 324.40,261.00 335.50,262.80 346.60,262.00" fill="none" stroke="#36aebe" stroke-width="0.72"/>
<polyline points="246.70,263.50 257.80,264.00 268.90,264.00 280.00,262.50 291.10,263.00 302.20,263.00 313.30,317.50 324.40,262.50 335.50,259.10 346.60,261.00" fill="none" stroke="#4a4af5" stroke-width="0.72"/>
<polyline points="246.70,262.00 257.80,262.50 268.90,262.00 280.00,262.20 291.10,262.50 302.20,262.20 313.30,262.00 324.40,262.20 335.50,266.40 346.60,263.70" fill="none" stroke="#7b3b8b" stroke-width="0.72"/>
<path d="M246.70,260.48L247.38,261.32L248.22,262.00L247.38,262.68L246.70,263.52L246.02,262.68L245.18,262.00L246.02,261.32Z" fill="#111"/>
<path d="M257.80,261.98L258.48,262.82L259.32,263.50L258.48,264.18L257.80,265.02L257.12,264.18L256.28,263.50L257.12,262.82Z" fill="#111"/>
<path d="M268.90,260.98L269.58,261.82L270.42,262.50L269.58,263.18L268.90,264.02L268.22,263.18L267.38,262.50L268.22,261.82Z" fill="#111"/>
<path d="M280.00,265.38L280.68,266.22L281.52,266.90L280.68,267.58L280.00,268.42L279.32,267.58L278.48,266.90L279.32,266.22Z" fill="#111"/>
<path d="M291.10,264.58L291.78,265.42L292.62,266.10L291.78,266.78L291.10,267.62L290.42,266.78L289.58,266.10L290.42,265.42Z" fill="#111"/>
<path d="M302.20,261.48L302.88,262.32L303.72,263.00L302.88,263.68L302.20,264.52L301.52,263.68L300.68,263.00L301.52,262.32Z" fill="#111"/>
<path d="M313.30,299.18L313.98,300.02L314.82,300.70L313.98,301.38L313.30,302.22L312.62,301.38L311.78,300.70L312.62,300.02Z" fill="#111"/>
<path d="M324.40,258.48L325.08,259.32L325.92,260.00L325.08,260.68L324.40,261.52L323.72,260.68L322.88,260.00L323.72,259.32Z" fill="#111"/>
<path d="M335.50,260.48L336.18,261.32L337.02,262.00L336.18,262.68L335.50,263.52L334.82,262.68L333.98,262.00L334.82,261.32Z" fill="#111"/>
<path d="M346.60,260.48L347.28,261.32L348.12,262.00L347.28,262.68L346.60,263.52L345.92,262.68L345.08,262.00L345.92,261.32Z" fill="#111"/>
<path d="M245.18,260.98L248.22,264.02M245.18,264.02L248.22,260.98" stroke="#444" stroke-width="0.75" fill="none"/>
<path d="M256.28,261.98L259.32,265.02M256.28,265.02L259.32,261.98" stroke="#444" stroke-width="0.75" fill="none"/>
<path d="M267.38,260.48L270.42,263.52M267.38,263.52L270.42,260.48" stroke="#444" stroke-width="0.75" fill="none"/>
<path d="M278.48,262.98L281.52,266.02M278.48,266.02L281.52,262.98" stroke="#444" stroke-width="0.75" fill="none"/>
<path d="M289.58,263.48L292.62,266.52M289.58,266.52L292.62,263.48" stroke="#444" stroke-width="0.75" fill="none"/>
<path d="M300.68,261.48L303.72,264.52M300.68,264.52L303.72,261.48" stroke="#444" stroke-width="0.75" fill="none"/>
<path d="M311.78,304.98L314.82,308.02M311.78,308.02L314.82,304.98" stroke="#444" stroke-width="0.75" fill="none"/>
<path d="M322.88,258.98L325.92,262.02M322.88,262.02L325.92,258.98" stroke="#444" stroke-width="0.75" fill="none"/>
<path d="M333.98,258.48L337.02,261.52M333.98,261.52L337.02,258.48" stroke="#444" stroke-width="0.75" fill="none"/>
<path d="M345.08,259.48L348.12,262.52M345.08,262.52L348.12,259.48" stroke="#444" stroke-width="0.75" fill="none"/>
<path d="M246.70,262.32L248.38,264.00L246.70,265.68L245.02,264.00Z" fill="#1f9a6e" stroke="#104030" stroke-width="0.4"/>
<path d="M257.80,260.82L259.48,262.50L257.80,264.18L256.12,262.50Z" fill="#1f9a6e" stroke="#104030" stroke-width="0.4"/>
<path d="M268.90,258.82L270.58,260.50L268.90,262.18L267.22,260.50Z" fill="#1f9a6e" stroke="#104030" stroke-width="0.4"/>
<path d="M280.00,261.32L281.68,263.00L280.00,264.68L278.32,263.00Z" fill="#1f9a6e" stroke="#104030" stroke-width="0.4"/>
<path d="M291.10,262.32L292.78,264.00L291.10,265.68L289.42,264.00Z" fill="#1f9a6e" stroke="#104030" stroke-width="0.4"/>
<path d="M302.20,260.82L303.88,262.50L302.20,264.18L300.52,262.50Z" fill="#1f9a6e" stroke="#104030" stroke-width="0.4"/>
<path d="M313.30,309.32L314.98,311.00L313.30,312.68L311.62,311.00Z" fill="#1f9a6e" stroke="#104030" stroke-width="0.4"/>
<path d="M324.40,257.82L326.08,259.50L324.40,261.18L322.72,259.50Z" fill="#1f9a6e" stroke="#104030" stroke-width="0.4"/>
<path d="M335.50,259.32L337.18,261.00L335.50,262.68L333.82,261.00Z" fill="#1f9a6e" stroke="#104030" stroke-width="0.4"/>
<path d="M346.60,257.32L348.28,259.00L346.60,260.68L344.92,259.00Z" fill="#1f9a6e" stroke="#104030" stroke-width="0.4"/>
<path d="M245.02,261.22L248.38,261.22L246.70,264.26Z" fill="#1f6f78" stroke="#0e3338" stroke-width="0.4"/>
<path d="M256.12,261.72L259.48,261.72L257.80,264.76Z" fill="#1f6f78" stroke="#0e3338" stroke-width="0.4"/>
<path d="M267.22,260.72L270.58,260.72L268.90,263.76Z" fill="#1f6f78" stroke="#0e3338" stroke-width="0.4"/>
<path d="M278.32,261.22L281.68,261.22L280.00,264.26Z" fill="#1f6f78" stroke="#0e3338" stroke-width="0.4"/>
<path d="M289.42,262.22L292.78,262.22L291.10,265.26Z" fill="#1f6f78" stroke="#0e3338" stroke-width="0.4"/>
<path d="M300.52,261.22L303.88,261.22L302.20,264.26Z" fill="#1f6f78" stroke="#0e3338" stroke-width="0.4"/>
<path d="M311.62,302.22L314.98,302.22L313.30,305.26Z" fill="#1f6f78" stroke="#0e3338" stroke-width="0.4"/>
<path d="M322.72,259.72L326.08,259.72L324.40,262.76Z" fill="#1f6f78" stroke="#0e3338" stroke-width="0.4"/>
<path d="M333.82,261.52L337.18,261.52L335.50,264.56Z" fill="#1f6f78" stroke="#0e3338" stroke-width="0.4"/>
<path d="M344.92,260.72L348.28,260.72L346.60,263.76Z" fill="#1f6f78" stroke="#0e3338" stroke-width="0.4"/>
<rect x="245.10" y="261.90" width="3.20" height="3.20" fill="#1414f0" stroke="#0a0aa0" stroke-width="0.3"/>
<rect x="256.20" y="262.40" width="3.20" height="3.20" fill="#1414f0" stroke="#0a0aa0" stroke-width="0.3"/>
<rect x="267.30" y="262.40" width="3.20" height="3.20" fill="#1414f0" stroke="#0a0aa0" stroke-width="0.3"/>
<rect x="278.40" y="260.90" width="3.20" height="3.20" fill="#1414f0" stroke="#0a0aa0" stroke-width="0.3"/>
<rect x="289.50" y="261.40" width="3.20" height="3.20" fill="#1414f0" stroke="#0a0aa0" stroke-width="0.3"/>
<rect x="300.60" y="261.40" width="3.20" height="3.20" fill="#1414f0" stroke="#0a0aa0" stroke-width="0.3"/>
<rect x="311.70" y="315.90" width="3.20" height="3.20" fill="#1414f0" stroke="#0a0aa0" stroke-width="0.3"/>
<rect x="322.80" y="260.90" width="3.20" height="3.20" fill="#1414f0" stroke="#0a0aa0" stroke-width="0.3"/>
<rect x="333.90" y="257.50" width="3.20" height="3.20" fill="#1414f0" stroke="#0a0aa0" stroke-width="0.3"/>
<rect x="345.00" y="259.40" width="3.20" height="3.20" fill="#1414f0" stroke="#0a0aa0" stroke-width="0.3"/>
<circle cx="246.70" cy="262.00" r="1.52" fill="#4d0a59" stroke="#2a0030" stroke-width="0.4"/>
<circle cx="257.80" cy="262.50" r="1.52" fill="#4d0a59" stroke="#2a0030" stroke-width="0.4"/>
<circle cx="268.90" cy="262.00" r="1.52" fill="#4d0a59" stroke="#2a0030" stroke-width="0.4"/>
<circle cx="280.00" cy="262.20" r="1.52" fill="#4d0a59" stroke="#2a0030" stroke-width="0.4"/>
<circle cx="291.10" cy="262.50" r="1.52" fill="#4d0a59" stroke="#2a0030" stroke-width="0.4"/>
<circle cx="302.20" cy="262.20" r="1.52" fill="#4d0a59" stroke="#2a0030" stroke-width="0.4"/>
<circle cx="313.30" cy="262.00" r="1.52" fill="#4d0a59" stroke="#2a0030" stroke-width="0.4"/>
<circle cx="324.40" cy="262.20" r="1.52" fill="#4d0a59" stroke="#2a0030" stroke-width="0.4"/>
<circle cx="335.50" cy="266.40" r="1.52" fill="#4d0a59" stroke="#2a0030" stroke-width="0.4"/>
<circle cx="346.60" cy="263.70" r="1.52" fill="#4d0a59" stroke="#2a0030" stroke-width="0.4"/>
<line x1="414.00" y1="255.90" x2="414.00" y2="330.70" stroke="#5e5e5e" stroke-width="1.25"/>
<line x1="413.50" y1="330.20" x2="525.30" y2="330.20" stroke="#151515" stroke-width="1.15"/>
<line x1="410.90" y1="256.40" x2="414.00" y2="256.40" stroke="#333" stroke-width="0.9"/>
<text x="410.40" y="258.20" font-size="5.4" text-anchor="end" font-weight="bold" fill="#2a2a2a" stroke="#2a2a2a" stroke-width="0.25">10<tspan font-size="3.5" dy="-1.9" dx="0.2">12</tspan></text>
<line x1="410.90" y1="271.16" x2="414.00" y2="271.16" stroke="#333" stroke-width="0.9"/>
<text x="410.40" y="272.96" font-size="5.4" text-anchor="end" font-weight="bold" fill="#2a2a2a" stroke="#2a2a2a" stroke-width="0.25">10<tspan font-size="3.5" dy="-1.9" dx="0.2">11</tspan></text>
<line x1="410.90" y1="285.92" x2="414.00" y2="285.92" stroke="#333" stroke-width="0.9"/>
<text x="410.40" y="287.72" font-size="5.4" text-anchor="end" font-weight="bold" fill="#2a2a2a" stroke="#2a2a2a" stroke-width="0.25">10<tspan font-size="3.5" dy="-1.9" dx="0.2">10</tspan></text>
<line x1="410.90" y1="300.68" x2="414.00" y2="300.68" stroke="#333" stroke-width="0.9"/>
<text x="410.40" y="302.48" font-size="5.4" text-anchor="end" font-weight="bold" fill="#2a2a2a" stroke="#2a2a2a" stroke-width="0.25">10<tspan font-size="3.5" dy="-1.9" dx="0.2">9</tspan></text>
<line x1="410.90" y1="315.44" x2="414.00" y2="315.44" stroke="#333" stroke-width="0.9"/>
<text x="410.40" y="317.24" font-size="5.4" text-anchor="end" font-weight="bold" fill="#2a2a2a" stroke="#2a2a2a" stroke-width="0.25">10<tspan font-size="3.5" dy="-1.9" dx="0.2">8</tspan></text>
<line x1="410.90" y1="330.20" x2="414.00" y2="330.20" stroke="#333" stroke-width="0.9"/>
<text x="410.40" y="332.00" font-size="5.4" text-anchor="end" font-weight="bold" fill="#2a2a2a" stroke="#2a2a2a" stroke-width="0.25">10<tspan font-size="3.5" dy="-1.9" dx="0.2">7</tspan></text>
<line x1="419.80" y1="330.20" x2="419.80" y2="333.30" stroke="#333" stroke-width="0.9"/>
<text x="0" y="0" font-size="5.7" text-anchor="end" font-weight="bold" fill="#222" stroke="#222" stroke-width="0.15" transform="translate(421.35,338.70) rotate(-45)">C_I</text>
<line x1="430.90" y1="330.20" x2="430.90" y2="333.30" stroke="#333" stroke-width="0.9"/>
<text x="0" y="0" font-size="5.7" text-anchor="end" font-weight="bold" fill="#222" stroke="#222" stroke-width="0.15" transform="translate(432.45,338.70) rotate(-45)">C_II</text>
<line x1="442.00" y1="330.20" x2="442.00" y2="333.30" stroke="#333" stroke-width="0.9"/>
<text x="0" y="0" font-size="5.7" text-anchor="end" font-weight="bold" fill="#222" stroke="#222" stroke-width="0.15" transform="translate(443.55,338.70) rotate(-45)">CLI</text>
<line x1="453.10" y1="330.20" x2="453.10" y2="333.30" stroke="#333" stroke-width="0.9"/>
<text x="0" y="0" font-size="5.7" text-anchor="end" font-weight="bold" fill="#222" stroke="#222" stroke-width="0.15" transform="translate(454.65,338.70) rotate(-45)">CDI_I</text>
<line x1="464.20" y1="330.20" x2="464.20" y2="333.30" stroke="#333" stroke-width="0.9"/>
<text x="0" y="0" font-size="5.7" text-anchor="end" font-weight="bold" fill="#222" stroke="#222" stroke-width="0.15" transform="translate(465.75,338.70) rotate(-45)">CDI_II</text>
<line x1="475.30" y1="330.20" x2="475.30" y2="333.30" stroke="#333" stroke-width="0.9"/>
<text x="0" y="0" font-size="5.7" text-anchor="end" font-weight="bold" fill="#222" stroke="#222" stroke-width="0.15" transform="translate(476.85,338.70) rotate(-45)">CDI_III</text>
<line x1="486.40" y1="330.20" x2="486.40" y2="333.30" stroke="#333" stroke-width="0.9"/>
<text x="0" y="0" font-size="5.7" text-anchor="end" font-weight="bold" fill="#222" stroke="#222" stroke-width="0.15" transform="translate(487.95,338.70) rotate(-45)">VNC</text>
<line x1="497.50" y1="330.20" x2="497.50" y2="333.30" stroke="#333" stroke-width="0.9"/>
<text x="0" y="0" font-size="5.7" text-anchor="end" font-weight="bold" fill="#222" stroke="#222" stroke-width="0.15" transform="translate(499.05,338.70) rotate(-45)">PI_I</text>
<line x1="508.60" y1="330.20" x2="508.60" y2="333.30" stroke="#333" stroke-width="0.9"/>
<text x="0" y="0" font-size="5.7" text-anchor="end" font-weight="bold" fill="#222" stroke="#222" stroke-width="0.15" transform="translate(510.15,338.70) rotate(-45)">PI_II</text>
<line x1="519.70" y1="330.20" x2="519.70" y2="333.30" stroke="#333" stroke-width="0.9"/>
<text x="0" y="0" font-size="5.7" text-anchor="end" font-weight="bold" fill="#222" stroke="#222" stroke-width="0.15" transform="translate(521.25,338.70) rotate(-45)">PI_III</text>
<text x="0" y="0" font-size="5.95" text-anchor="middle" font-weight="bold" font-style="italic" fill="#222" stroke="#222" stroke-width="0.12" transform="translate(386.60,293.30) rotate(-90)">Enterobacteriaceae</text>
<text x="0" y="0" font-size="5.95" text-anchor="middle" font-weight="bold" fill="#222" stroke="#222" stroke-width="0.12" transform="translate(393.10,293.30) rotate(-90)">copies/mL log units</text>
<polyline points="419.80,300.00 430.90,286.90 442.00,275.00 453.10,282.60 464.20,285.00 475.30,278.80 486.40,277.00 497.50,272.30 508.60,290.70 519.70,291.50" fill="none" stroke="#f6a24a" stroke-width="0.72"/>
<polyline points="419.80,295.50 430.90,300.60 442.00,277.00 453.10,282.00 464.20,284.00 475.30,285.00 486.40,278.00 497.50,274.00 508.60,284.00 519.70,285.00" fill="none" stroke="#94e27c" stroke-width="0.72"/>
<polyline points="419.80,286.40 430.90,291.20 442.00,278.30 453.10,276.10 464.20,275.70 475.30,281.70 486.40,274.00 497.50,270.90 508.60,288.60 519.70,296.00" fill="none" stroke="#4cc9a0" stroke-width="0.72"/>
<polyline points="419.80,290.30 430.90,290.80 442.00,279.20 453.10,286.90 464.20,285.00 475.30,283.00 486.40,276.00 497.50,276.00 508.60,285.00 519.70,288.00" fill="none" stroke="#36aebe" stroke-width="0.72"/>
<polyline points="419.80,306.30 430.90,303.50 442.00,272.80 453.10,280.50 464.20,284.00 475.30,274.00 486.40,280.50 497.50,276.60 508.60,277.10 519.70,276.10" fill="none" stroke="#4a4af5" stroke-width="0.72"/>
<polyline points="419.80,305.70 430.90,306.60 442.00,315.50 453.10,304.50 464.20,295.50 475.30,286.50 486.40,283.40 497.50,280.90 508.60,281.70 519.70,282.10" fill="none" stroke="#7b3b8b" stroke-width="0.72"/>
<path d="M419.80,298.48L420.48,299.32L421.32,300.00L420.48,300.68L419.80,301.52L419.12,300.68L418.28,300.00L419.12,299.32Z" fill="#111"/>
<path d="M430.90,285.38L431.58,286.22L432.42,286.90L431.58,287.58L430.90,288.42L430.22,287.58L429.38,286.90L430.22,286.22Z" fill="#111"/>
<path d="M442.00,273.48L442.68,274.32L443.52,275.00L442.68,275.68L442.00,276.52L441.32,275.68L440.48,275.00L441.32,274.32Z" fill="#111"/>
<path d="M453.10,281.08L453.78,281.92L454.62,282.60L453.78,283.28L453.10,284.12L452.42,283.28L451.58,282.60L452.42,281.92Z" fill="#111"/>
<path d="M464.20,283.48L464.88,284.32L465.72,285.00L464.88,285.68L464.20,286.52L463.52,285.68L462.68,285.00L463.52,284.32Z" fill="#111"/>
<path d="M475.30,277.28L475.98,278.12L476.82,278.80L475.98,279.48L475.30,280.32L474.62,279.48L473.78,278.80L474.62,278.12Z" fill="#111"/>
<path d="M486.40,275.48L487.08,276.32L487.92,277.00L487.08,277.68L486.40,278.52L485.72,277.68L484.88,277.00L485.72,276.32Z" fill="#111"/>
<path d="M497.50,270.78L498.18,271.62L499.02,272.30L498.18,272.98L497.50,273.82L496.82,272.98L495.98,272.30L496.82,271.62Z" fill="#111"/>
<path d="M508.60,289.18L509.28,290.02L510.12,290.70L509.28,291.38L508.60,292.22L507.92,291.38L507.08,290.70L507.92,290.02Z" fill="#111"/>
<path d="M519.70,289.98L520.38,290.82L521.22,291.50L520.38,292.18L519.70,293.02L519.02,292.18L518.18,291.50L519.02,290.82Z" fill="#111"/>
<path d="M418.28,293.98L421.32,297.02M418.28,297.02L421.32,293.98" stroke="#444" stroke-width="0.75" fill="none"/>
<path d="M429.38,299.08L432.42,302.12M429.38,302.12L432.42,299.08" stroke="#444" stroke-width="0.75" fill="none"/>
<path d="M440.48,275.48L443.52,278.52M440.48,278.52L443.52,275.48" stroke="#444" stroke-width="0.75" fill="none"/>
<path d="M451.58,280.48L454.62,283.52M451.58,283.52L454.62,280.48" stroke="#444" stroke-width="0.75" fill="none"/>
<path d="M462.68,282.48L465.72,285.52M462.68,285.52L465.72,282.48" stroke="#444" stroke-width="0.75" fill="none"/>
<path d="M473.78,283.48L476.82,286.52M473.78,286.52L476.82,283.48" stroke="#444" stroke-width="0.75" fill="none"/>
<path d="M484.88,276.48L487.92,279.52M484.88,279.52L487.92,276.48" stroke="#444" stroke-width="0.75" fill="none"/>
<path d="M495.98,272.48L499.02,275.52M495.98,275.52L499.02,272.48" stroke="#444" stroke-width="0.75" fill="none"/>
<path d="M507.08,282.48L510.12,285.52M507.08,285.52L510.12,282.48" stroke="#444" stroke-width="0.75" fill="none"/>
<path d="M518.18,283.48L521.22,286.52M518.18,286.52L521.22,283.48" stroke="#444" stroke-width="0.75" fill="none"/>
<path d="M419.80,284.72L421.48,286.40L419.80,288.08L418.12,286.40Z" fill="#1f9a6e" stroke="#104030" stroke-width="0.4"/>
<path d="M430.90,289.52L432.58,291.20L430.90,292.88L429.22,291.20Z" fill="#1f9a6e" stroke="#104030" stroke-width="0.4"/>
<path d="M442.00,276.62L443.68,278.30L442.00,279.98L440.32,278.30Z" fill="#1f9a6e" stroke="#104030" stroke-width="0.4"/>
<path d="M453.10,274.42L454.78,276.10L453.10,277.78L451.42,276.10Z" fill="#1f9a6e" stroke="#104030" stroke-width="0.4"/>
<path d="M464.20,274.02L465.88,275.70L464.20,277.38L462.52,275.70Z" fill="#1f9a6e" stroke="#104030" stroke-width="0.4"/>
<path d="M475.30,280.02L476.98,281.70L475.30,283.38L473.62,281.70Z" fill="#1f9a6e" stroke="#104030" stroke-width="0.4"/>
<path d="M486.40,272.32L488.08,274.00L486.40,275.68L484.72,274.00Z" fill="#1f9a6e" stroke="#104030" stroke-width="0.4"/>
<path d="M497.50,269.22L499.18,270.90L497.50,272.58L495.82,270.90Z" fill="#1f9a6e" stroke="#104030" stroke-width="0.4"/>
<path d="M508.60,286.92L510.28,288.60L508.60,290.28L506.92,288.60Z" fill="#1f9a6e" stroke="#104030" stroke-width="0.4"/>
<path d="M519.70,294.32L521.38,296.00L519.70,297.68L518.02,296.00Z" fill="#1f9a6e" stroke="#104030" stroke-width="0.4"/>
<path d="M418.12,289.02L421.48,289.02L419.80,292.06Z" fill="#1f6f78" stroke="#0e3338" stroke-width="0.4"/>
<path d="M429.22,289.52L432.58,289.52L430.90,292.56Z" fill="#1f6f78" stroke="#0e3338" stroke-width="0.4"/>
<path d="M440.32,277.92L443.68,277.92L442.00,280.96Z" fill="#1f6f78" stroke="#0e3338" stroke-width="0.4"/>
<path d="M451.42,285.62L454.78,285.62L453.10,288.66Z" fill="#1f6f78" stroke="#0e3338" stroke-width="0.4"/>
<path d="M462.52,283.72L465.88,283.72L464.20,286.76Z" fill="#1f6f78" stroke="#0e3338" stroke-width="0.4"/>
<path d="M473.62,281.72L476.98,281.72L475.30,284.76Z" fill="#1f6f78" stroke="#0e3338" stroke-width="0.4"/>
<path d="M484.72,274.72L488.08,274.72L486.40,277.76Z" fill="#1f6f78" stroke="#0e3338" stroke-width="0.4"/>
<path d="M495.82,274.72L499.18,274.72L497.50,277.76Z" fill="#1f6f78" stroke="#0e3338" stroke-width="0.4"/>
<path d="M506.92,283.72L510.28,283.72L508.60,286.76Z" fill="#1f6f78" stroke="#0e3338" stroke-width="0.4"/>
<path d="M518.02,286.72L521.38,286.72L519.70,289.76Z" fill="#1f6f78" stroke="#0e3338" stroke-width="0.4"/>
<rect x="418.20" y="304.70" width="3.20" height="3.20" fill="#1414f0" stroke="#0a0aa0" stroke-width="0.3"/>
<rect x="429.30" y="301.90" width="3.20" height="3.20" fill="#1414f0" stroke="#0a0aa0" stroke-width="0.3"/>
<rect x="440.40" y="271.20" width="3.20" height="3.20" fill="#1414f0" stroke="#0a0aa0" stroke-width="0.3"/>
<rect x="451.50" y="278.90" width="3.20" height="3.20" fill="#1414f0" stroke="#0a0aa0" stroke-width="0.3"/>
<rect x="462.60" y="282.40" width="3.20" height="3.20" fill="#1414f0" stroke="#0a0aa0" stroke-width="0.3"/>
<rect x="473.70" y="272.40" width="3.20" height="3.20" fill="#1414f0" stroke="#0a0aa0" stroke-width="0.3"/>
<rect x="484.80" y="278.90" width="3.20" height="3.20" fill="#1414f0" stroke="#0a0aa0" stroke-width="0.3"/>
<rect x="495.90" y="275.00" width="3.20" height="3.20" fill="#1414f0" stroke="#0a0aa0" stroke-width="0.3"/>
<rect x="507.00" y="275.50" width="3.20" height="3.20" fill="#1414f0" stroke="#0a0aa0" stroke-width="0.3"/>
<rect x="518.10" y="274.50" width="3.20" height="3.20" fill="#1414f0" stroke="#0a0aa0" stroke-width="0.3"/>
<circle cx="419.80" cy="305.70" r="1.52" fill="#4d0a59" stroke="#2a0030" stroke-width="0.4"/>
<circle cx="430.90" cy="306.60" r="1.52" fill="#4d0a59" stroke="#2a0030" stroke-width="0.4"/>
<circle cx="442.00" cy="315.50" r="1.52" fill="#4d0a59" stroke="#2a0030" stroke-width="0.4"/>
<circle cx="453.10" cy="304.50" r="1.52" fill="#4d0a59" stroke="#2a0030" stroke-width="0.4"/>
<circle cx="464.20" cy="295.50" r="1.52" fill="#4d0a59" stroke="#2a0030" stroke-width="0.4"/>
<circle cx="475.30" cy="286.50" r="1.52" fill="#4d0a59" stroke="#2a0030" stroke-width="0.4"/>
<circle cx="486.40" cy="283.40" r="1.52" fill="#4d0a59" stroke="#2a0030" stroke-width="0.4"/>
<circle cx="497.50" cy="280.90" r="1.52" fill="#4d0a59" stroke="#2a0030" stroke-width="0.4"/>
<circle cx="508.60" cy="281.70" r="1.52" fill="#4d0a59" stroke="#2a0030" stroke-width="0.4"/>
<circle cx="519.70" cy="282.10" r="1.52" fill="#4d0a59" stroke="#2a0030" stroke-width="0.4"/>
<line x1="67.40" y1="390.60" x2="67.40" y2="465.70" stroke="#5e5e5e" stroke-width="1.25"/>
<line x1="66.90" y1="465.20" x2="178.50" y2="465.20" stroke="#151515" stroke-width="1.15"/>
<line x1="64.30" y1="391.10" x2="67.40" y2="391.10" stroke="#333" stroke-width="0.9"/>
<text x="63.80" y="392.90" font-size="5.4" text-anchor="end" font-weight="bold" fill="#2a2a2a" stroke="#2a2a2a" stroke-width="0.25">10<tspan font-size="3.5" dy="-1.9" dx="0.2">11</tspan></text>
<line x1="64.30" y1="403.45" x2="67.40" y2="403.45" stroke="#333" stroke-width="0.9"/>
<text x="63.80" y="405.25" font-size="5.4" text-anchor="end" font-weight="bold" fill="#2a2a2a" stroke="#2a2a2a" stroke-width="0.25">10<tspan font-size="3.5" dy="-1.9" dx="0.2">10</tspan></text>
<line x1="64.30" y1="415.80" x2="67.40" y2="415.80" stroke="#333" stroke-width="0.9"/>
<text x="63.80" y="417.60" font-size="5.4" text-anchor="end" font-weight="bold" fill="#2a2a2a" stroke="#2a2a2a" stroke-width="0.25">10<tspan font-size="3.5" dy="-1.9" dx="0.2">9</tspan></text>
<line x1="64.30" y1="428.15" x2="67.40" y2="428.15" stroke="#333" stroke-width="0.9"/>
<text x="63.80" y="429.95" font-size="5.4" text-anchor="end" font-weight="bold" fill="#2a2a2a" stroke="#2a2a2a" stroke-width="0.25">10<tspan font-size="3.5" dy="-1.9" dx="0.2">8</tspan></text>
<line x1="64.30" y1="440.50" x2="67.40" y2="440.50" stroke="#333" stroke-width="0.9"/>
<text x="63.80" y="442.30" font-size="5.4" text-anchor="end" font-weight="bold" fill="#2a2a2a" stroke="#2a2a2a" stroke-width="0.25">10<tspan font-size="3.5" dy="-1.9" dx="0.2">7</tspan></text>
<line x1="64.30" y1="452.85" x2="67.40" y2="452.85" stroke="#333" stroke-width="0.9"/>
<text x="63.80" y="454.65" font-size="5.4" text-anchor="end" font-weight="bold" fill="#2a2a2a" stroke="#2a2a2a" stroke-width="0.25">10<tspan font-size="3.5" dy="-1.9" dx="0.2">6</tspan></text>
<line x1="64.30" y1="465.20" x2="67.40" y2="465.20" stroke="#333" stroke-width="0.9"/>
<text x="63.80" y="467.00" font-size="5.4" text-anchor="end" font-weight="bold" fill="#2a2a2a" stroke="#2a2a2a" stroke-width="0.25">10<tspan font-size="3.5" dy="-1.9" dx="0.2">5</tspan></text>
<line x1="72.90" y1="465.20" x2="72.90" y2="468.30" stroke="#333" stroke-width="0.9"/>
<text x="0" y="0" font-size="5.7" text-anchor="end" font-weight="bold" fill="#222" stroke="#222" stroke-width="0.15" transform="translate(74.45,473.70) rotate(-45)">C_I</text>
<line x1="84.00" y1="465.20" x2="84.00" y2="468.30" stroke="#333" stroke-width="0.9"/>
<text x="0" y="0" font-size="5.7" text-anchor="end" font-weight="bold" fill="#222" stroke="#222" stroke-width="0.15" transform="translate(85.55,473.70) rotate(-45)">C_II</text>
<line x1="95.10" y1="465.20" x2="95.10" y2="468.30" stroke="#333" stroke-width="0.9"/>
<text x="0" y="0" font-size="5.7" text-anchor="end" font-weight="bold" fill="#222" stroke="#222" stroke-width="0.15" transform="translate(96.65,473.70) rotate(-45)">CLI</text>
<line x1="106.20" y1="465.20" x2="106.20" y2="468.30" stroke="#333" stroke-width="0.9"/>
<text x="0" y="0" font-size="5.7" text-anchor="end" font-weight="bold" fill="#222" stroke="#222" stroke-width="0.15" transform="translate(107.75,473.70) rotate(-45)">CDI_I</text>
<line x1="117.30" y1="465.20" x2="117.30" y2="468.30" stroke="#333" stroke-width="0.9"/>
<text x="0" y="0" font-size="5.7" text-anchor="end" font-weight="bold" fill="#222" stroke="#222" stroke-width="0.15" transform="translate(118.85,473.70) rotate(-45)">CDI_II</text>
<line x1="128.40" y1="465.20" x2="128.40" y2="468.30" stroke="#333" stroke-width="0.9"/>
<text x="0" y="0" font-size="5.7" text-anchor="end" font-weight="bold" fill="#222" stroke="#222" stroke-width="0.15" transform="translate(129.95,473.70) rotate(-45)">CDI_III</text>
<line x1="139.50" y1="465.20" x2="139.50" y2="468.30" stroke="#333" stroke-width="0.9"/>
<text x="0" y="0" font-size="5.7" text-anchor="end" font-weight="bold" fill="#222" stroke="#222" stroke-width="0.15" transform="translate(141.05,473.70) rotate(-45)">VNC</text>
<line x1="150.60" y1="465.20" x2="150.60" y2="468.30" stroke="#333" stroke-width="0.9"/>
<text x="0" y="0" font-size="5.7" text-anchor="end" font-weight="bold" fill="#222" stroke="#222" stroke-width="0.15" transform="translate(152.15,473.70) rotate(-45)">PI_I</text>
<line x1="161.70" y1="465.20" x2="161.70" y2="468.30" stroke="#333" stroke-width="0.9"/>
<text x="0" y="0" font-size="5.7" text-anchor="end" font-weight="bold" fill="#222" stroke="#222" stroke-width="0.15" transform="translate(163.25,473.70) rotate(-45)">PI_II</text>
<line x1="172.80" y1="465.20" x2="172.80" y2="468.30" stroke="#333" stroke-width="0.9"/>
<text x="0" y="0" font-size="5.7" text-anchor="end" font-weight="bold" fill="#222" stroke="#222" stroke-width="0.15" transform="translate(174.35,473.70) rotate(-45)">PI_III</text>
<text x="0" y="0" font-size="5.95" text-anchor="middle" font-weight="bold" font-style="normal" fill="#222" stroke="#222" stroke-width="0.12" transform="translate(38.30,428.15) rotate(-90)">Bifidobacteria</text>
<text x="0" y="0" font-size="5.95" text-anchor="middle" font-weight="bold" fill="#222" stroke="#222" stroke-width="0.12" transform="translate(44.90,428.15) rotate(-90)">copies/mL log units</text>
<polyline points="72.90,406.00 84.00,408.00 95.10,455.00 106.20,457.00 117.30,414.00 128.40,408.20 139.50,436.00 150.60,440.20 161.70,397.00 172.80,397.00" fill="none" stroke="#f6a24a" stroke-width="0.72"/>
<polyline points="72.90,406.00 84.00,407.00 95.10,457.00 106.20,458.00 117.30,411.00 128.40,411.00 139.50,440.70 150.60,450.20 161.70,408.20 172.80,410.40" fill="none" stroke="#94e27c" stroke-width="0.72"/>
<polyline points="72.90,407.00 84.00,408.00 95.10,459.00 106.20,459.00 117.30,410.40 128.40,412.10 139.50,439.00 150.60,432.70 161.70,402.70 172.80,400.80" fill="none" stroke="#4cc9a0" stroke-width="0.72"/>
<polyline points="72.90,406.00 84.00,407.00 95.10,455.00 106.20,417.90 117.30,413.00 128.40,417.00 139.50,448.60 150.60,440.50 161.70,404.20 172.80,403.00" fill="none" stroke="#36aebe" stroke-width="0.72"/>
<polyline points="72.90,404.70 84.00,407.30 95.10,450.20 106.20,457.90 117.30,415.50 128.40,413.30 139.50,433.90 150.60,444.20 161.70,405.90 172.80,417.60" fill="none" stroke="#4a4af5" stroke-width="0.72"/>
<polyline points="72.90,405.20 84.00,406.40 95.10,411.60 106.20,412.80 117.30,415.90 128.40,417.60 139.50,415.00 150.60,410.20 161.70,414.20 172.80,415.00" fill="none" stroke="#7b3b8b" stroke-width="0.72"/>
<path d="M72.90,404.48L73.58,405.32L74.42,406.00L73.58,406.68L72.90,407.52L72.22,406.68L71.38,406.00L72.22,405.32Z" fill="#111"/>
<path d="M84.00,406.48L84.68,407.32L85.52,408.00L84.68,408.68L84.00,409.52L83.32,408.68L82.48,408.00L83.32,407.32Z" fill="#111"/>
<path d="M95.10,453.48L95.78,454.32L96.62,455.00L95.78,455.68L95.10,456.52L94.42,455.68L93.58,455.00L94.42,454.32Z" fill="#111"/>
<path d="M106.20,455.48L106.88,456.32L107.72,457.00L106.88,457.68L106.20,458.52L105.52,457.68L104.68,457.00L105.52,456.32Z" fill="#111"/>
<path d="M117.30,412.48L117.98,413.32L118.82,414.00L117.98,414.68L117.30,415.52L116.62,414.68L115.78,414.00L116.62,413.32Z" fill="#111"/>
<path d="M128.40,406.68L129.08,407.52L129.92,408.20L129.08,408.88L128.40,409.72L127.72,408.88L126.88,408.20L127.72,407.52Z" fill="#111"/>
<path d="M139.50,434.48L140.18,435.32L141.02,436.00L140.18,436.68L139.50,437.52L138.82,436.68L137.98,436.00L138.82,435.32Z" fill="#111"/>
<path d="M150.60,438.68L151.28,439.52L152.12,440.20L151.28,440.88L150.60,441.72L149.92,440.88L149.08,440.20L149.92,439.52Z" fill="#111"/>
<path d="M161.70,395.48L162.38,396.32L163.22,397.00L162.38,397.68L161.70,398.52L161.02,397.68L160.18,397.00L161.02,396.32Z" fill="#111"/>
<path d="M172.80,395.48L173.48,396.32L174.32,397.00L173.48,397.68L172.80,398.52L172.12,397.68L171.28,397.00L172.12,396.32Z" fill="#111"/>
<path d="M71.38,404.48L74.42,407.52M71.38,407.52L74.42,404.48" stroke="#444" stroke-width="0.75" fill="none"/>
<path d="M82.48,405.48L85.52,408.52M82.48,408.52L85.52,405.48" stroke="#444" stroke-width="0.75" fill="none"/>
<path d="M93.58,455.48L96.62,458.52M93.58,458.52L96.62,455.48" stroke="#444" stroke-width="0.75" fill="none"/>
<path d="M104.68,456.48L107.72,459.52M104.68,459.52L107.72,456.48" stroke="#444" stroke-width="0.75" fill="none"/>
<path d="M115.78,409.48L118.82,412.52M115.78,412.52L118.82,409.48" stroke="#444" stroke-width="0.75" fill="none"/>
<path d="M126.88,409.48L129.92,412.52M126.88,412.52L129.92,409.48" stroke="#444" stroke-width="0.75" fill="none"/>
<path d="M137.98,439.18L141.02,442.22M137.98,442.22L141.02,439.18" stroke="#444" stroke-width="0.75" fill="none"/>
<path d="M149.08,448.68L152.12,451.72M149.08,451.72L152.12,448.68" stroke="#444" stroke-width="0.75" fill="none"/>
<path d="M160.18,406.68L163.22,409.72M160.18,409.72L163.22,406.68" stroke="#444" stroke-width="0.75" fill="none"/>
<path d="M171.28,408.88L174.32,411.92M171.28,411.92L174.32,408.88" stroke="#444" stroke-width="0.75" fill="none"/>
<path d="M72.90,405.32L74.58,407.00L72.90,408.68L71.22,407.00Z" fill="#1f9a6e" stroke="#104030" stroke-width="0.4"/>
<path d="M84.00,406.32L85.68,408.00L84.00,409.68L82.32,408.00Z" fill="#1f9a6e" stroke="#104030" stroke-width="0.4"/>
<path d="M95.10,457.32L96.78,459.00L95.10,460.68L93.42,459.00Z" fill="#1f9a6e" stroke="#104030" stroke-width="0.4"/>
<path d="M106.20,457.32L107.88,459.00L106.20,460.68L104.52,459.00Z" fill="#1f9a6e" stroke="#104030" stroke-width="0.4"/>
<path d="M117.30,408.72L118.98,410.40L117.30,412.08L115.62,410.40Z" fill="#1f9a6e" stroke="#104030" stroke-width="0.4"/>
<path d="M128.40,410.42L130.08,412.10L128.40,413.78L126.72,412.10Z" fill="#1f9a6e" stroke="#104030" stroke-width="0.4"/>
<path d="M139.50,437.32L141.18,439.00L139.50,440.68L137.82,439.00Z" fill="#1f9a6e" stroke="#104030" stroke-width="0.4"/>
<path d="M150.60,431.02L152.28,432.70L150.60,434.38L148.92,432.70Z" fill="#1f9a6e" stroke="#104030" stroke-width="0.4"/>
<path d="M161.70,401.02L163.38,402.70L161.70,404.38L160.02,402.70Z" fill="#1f9a6e" stroke="#104030" stroke-width="0.4"/>
<path d="M172.80,399.12L174.48,400.80L172.80,402.48L171.12,400.80Z" fill="#1f9a6e" stroke="#104030" stroke-width="0.4"/>
<path d="M71.22,404.72L74.58,404.72L72.90,407.76Z" fill="#1f6f78" stroke="#0e3338" stroke-width="0.4"/>
<path d="M82.32,405.72L85.68,405.72L84.00,408.76Z" fill="#1f6f78" stroke="#0e3338" stroke-width="0.4"/>
<path d="M93.42,453.72L96.78,453.72L95.10,456.76Z" fill="#1f6f78" stroke="#0e3338" stroke-width="0.4"/>
<path d="M104.52,416.62L107.88,416.62L106.20,419.66Z" fill="#1f6f78" stroke="#0e3338" stroke-width="0.4"/>
<path d="M115.62,411.72L118.98,411.72L117.30,414.76Z" fill="#1f6f78" stroke="#0e3338" stroke-width="0.4"/>
<path d="M126.72,415.72L130.08,415.72L128.40,418.76Z" fill="#1f6f78" stroke="#0e3338" stroke-width="0.4"/>
<path d="M137.82,447.32L141.18,447.32L139.50,450.36Z" fill="#1f6f78" stroke="#0e3338" stroke-width="0.4"/>
<path d="M148.92,439.22L152.28,439.22L150.60,442.26Z" fill="#1f6f78" stroke="#0e3338" stroke-width="0.4"/>
<path d="M160.02,402.92L163.38,402.92L161.70,405.96Z" fill="#1f6f78" stroke="#0e3338" stroke-width="0.4"/>
<path d="M171.12,401.72L174.48,401.72L172.80,404.76Z" fill="#1f6f78" stroke="#0e3338" stroke-width="0.4"/>
<rect x="71.30" y="403.10" width="3.20" height="3.20" fill="#1414f0" stroke="#0a0aa0" stroke-width="0.3"/>
<rect x="82.40" y="405.70" width="3.20" height="3.20" fill="#1414f0" stroke="#0a0aa0" stroke-width="0.3"/>
<rect x="93.50" y="448.60" width="3.20" height="3.20" fill="#1414f0" stroke="#0a0aa0" stroke-width="0.3"/>
<rect x="104.60" y="456.30" width="3.20" height="3.20" fill="#1414f0" stroke="#0a0aa0" stroke-width="0.3"/>
<rect x="115.70" y="413.90" width="3.20" height="3.20" fill="#1414f0" stroke="#0a0aa0" stroke-width="0.3"/>
<rect x="126.80" y="411.70" width="3.20" height="3.20" fill="#1414f0" stroke="#0a0aa0" stroke-width="0.3"/>
<rect x="137.90" y="432.30" width="3.20" height="3.20" fill="#1414f0" stroke="#0a0aa0" stroke-width="0.3"/>
<rect x="149.00" y="442.60" width="3.20" height="3.20" fill="#1414f0" stroke="#0a0aa0" stroke-width="0.3"/>
<rect x="160.10" y="404.30" width="3.20" height="3.20" fill="#1414f0" stroke="#0a0aa0" stroke-width="0.3"/>
<rect x="171.20" y="416.00" width="3.20" height="3.20" fill="#1414f0" stroke="#0a0aa0" stroke-width="0.3"/>
<circle cx="72.90" cy="405.20" r="1.52" fill="#4d0a59" stroke="#2a0030" stroke-width="0.4"/>
<circle cx="84.00" cy="406.40" r="1.52" fill="#4d0a59" stroke="#2a0030" stroke-width="0.4"/>
<circle cx="95.10" cy="411.60" r="1.52" fill="#4d0a59" stroke="#2a0030" stroke-width="0.4"/>
<circle cx="106.20" cy="412.80" r="1.52" fill="#4d0a59" stroke="#2a0030" stroke-width="0.4"/>
<circle cx="117.30" cy="415.90" r="1.52" fill="#4d0a59" stroke="#2a0030" stroke-width="0.4"/>
<circle cx="128.40" cy="417.60" r="1.52" fill="#4d0a59" stroke="#2a0030" stroke-width="0.4"/>
<circle cx="139.50" cy="415.00" r="1.52" fill="#4d0a59" stroke="#2a0030" stroke-width="0.4"/>
<circle cx="150.60" cy="410.20" r="1.52" fill="#4d0a59" stroke="#2a0030" stroke-width="0.4"/>
<circle cx="161.70" cy="414.20" r="1.52" fill="#4d0a59" stroke="#2a0030" stroke-width="0.4"/>
<circle cx="172.80" cy="415.00" r="1.52" fill="#4d0a59" stroke="#2a0030" stroke-width="0.4"/>
<line x1="241.30" y1="390.90" x2="241.30" y2="467.90" stroke="#5e5e5e" stroke-width="1.25"/>
<line x1="240.80" y1="467.40" x2="355.20" y2="467.40" stroke="#151515" stroke-width="1.15"/>
<line x1="238.20" y1="391.40" x2="241.30" y2="391.40" stroke="#333" stroke-width="0.9"/>
<text x="237.70" y="393.20" font-size="5.4" text-anchor="end" font-weight="bold" fill="#2a2a2a" stroke="#2a2a2a" stroke-width="0.25">10<tspan font-size="3.5" dy="-1.9" dx="0.2">10</tspan></text>
<line x1="238.20" y1="410.40" x2="241.30" y2="410.40" stroke="#333" stroke-width="0.9"/>
<text x="237.70" y="412.20" font-size="5.4" text-anchor="end" font-weight="bold" fill="#2a2a2a" stroke="#2a2a2a" stroke-width="0.25">10<tspan font-size="3.5" dy="-1.9" dx="0.2">9</tspan></text>
<line x1="238.20" y1="429.40" x2="241.30" y2="429.40" stroke="#333" stroke-width="0.9"/>
<text x="237.70" y="431.20" font-size="5.4" text-anchor="end" font-weight="bold" fill="#2a2a2a" stroke="#2a2a2a" stroke-width="0.25">10<tspan font-size="3.5" dy="-1.9" dx="0.2">8</tspan></text>
<line x1="238.20" y1="448.40" x2="241.30" y2="448.40" stroke="#333" stroke-width="0.9"/>
<text x="237.70" y="450.20" font-size="5.4" text-anchor="end" font-weight="bold" fill="#2a2a2a" stroke="#2a2a2a" stroke-width="0.25">10<tspan font-size="3.5" dy="-1.9" dx="0.2">7</tspan></text>
<line x1="238.20" y1="467.40" x2="241.30" y2="467.40" stroke="#333" stroke-width="0.9"/>
<text x="237.70" y="469.20" font-size="5.4" text-anchor="end" font-weight="bold" fill="#2a2a2a" stroke="#2a2a2a" stroke-width="0.25">10<tspan font-size="3.5" dy="-1.9" dx="0.2">6</tspan></text>
<line x1="247.10" y1="467.40" x2="247.10" y2="470.50" stroke="#333" stroke-width="0.9"/>
<text x="0" y="0" font-size="5.7" text-anchor="end" font-weight="bold" fill="#222" stroke="#222" stroke-width="0.15" transform="translate(248.65,475.90) rotate(-45)">C_I</text>
<line x1="258.55" y1="467.40" x2="258.55" y2="470.50" stroke="#333" stroke-width="0.9"/>
<text x="0" y="0" font-size="5.7" text-anchor="end" font-weight="bold" fill="#222" stroke="#222" stroke-width="0.15" transform="translate(260.10,475.90) rotate(-45)">C_II</text>
<line x1="270.00" y1="467.40" x2="270.00" y2="470.50" stroke="#333" stroke-width="0.9"/>
<text x="0" y="0" font-size="5.7" text-anchor="end" font-weight="bold" fill="#222" stroke="#222" stroke-width="0.15" transform="translate(271.55,475.90) rotate(-45)">CLI</text>
<line x1="281.45" y1="467.40" x2="281.45" y2="470.50" stroke="#333" stroke-width="0.9"/>
<text x="0" y="0" font-size="5.7" text-anchor="end" font-weight="bold" fill="#222" stroke="#222" stroke-width="0.15" transform="translate(283.00,475.90) rotate(-45)">CDI_I</text>
<line x1="292.90" y1="467.40" x2="292.90" y2="470.50" stroke="#333" stroke-width="0.9"/>
<text x="0" y="0" font-size="5.7" text-anchor="end" font-weight="bold" fill="#222" stroke="#222" stroke-width="0.15" transform="translate(294.45,475.90) rotate(-45)">CDI_II</text>
<line x1="304.35" y1="467.40" x2="304.35" y2="470.50" stroke="#333" stroke-width="0.9"/>
<text x="0" y="0" font-size="5.7" text-anchor="end" font-weight="bold" fill="#222" stroke="#222" stroke-width="0.15" transform="translate(305.90,475.90) rotate(-45)">CDI_III</text>
<line x1="315.80" y1="467.40" x2="315.80" y2="470.50" stroke="#333" stroke-width="0.9"/>
<text x="0" y="0" font-size="5.7" text-anchor="end" font-weight="bold" fill="#222" stroke="#222" stroke-width="0.15" transform="translate(317.35,475.90) rotate(-45)">VNC</text>
<line x1="327.25" y1="467.40" x2="327.25" y2="470.50" stroke="#333" stroke-width="0.9"/>
<text x="0" y="0" font-size="5.7" text-anchor="end" font-weight="bold" fill="#222" stroke="#222" stroke-width="0.15" transform="translate(328.80,475.90) rotate(-45)">PI_I</text>
<line x1="338.70" y1="467.40" x2="338.70" y2="470.50" stroke="#333" stroke-width="0.9"/>
<text x="0" y="0" font-size="5.7" text-anchor="end" font-weight="bold" fill="#222" stroke="#222" stroke-width="0.15" transform="translate(340.25,475.90) rotate(-45)">PI_II</text>
<line x1="350.15" y1="467.40" x2="350.15" y2="470.50" stroke="#333" stroke-width="0.9"/>
<text x="0" y="0" font-size="5.7" text-anchor="end" font-weight="bold" fill="#222" stroke="#222" stroke-width="0.15" transform="translate(351.70,475.90) rotate(-45)">PI_III</text>
<text x="0" y="0" font-size="5.95" text-anchor="middle" font-weight="bold" font-style="italic" fill="#222" stroke="#222" stroke-width="0.12" transform="translate(213.30,429.40) rotate(-90)">Lactobacillus</text>
<text x="0" y="0" font-size="5.95" text-anchor="middle" font-weight="bold" fill="#222" stroke="#222" stroke-width="0.12" transform="translate(219.50,429.40) rotate(-90)">copies/mL log units</text>
<polyline points="247.10,430.00 258.55,428.00 270.00,433.00 281.45,418.60 292.90,437.50 304.35,434.00 315.80,411.00 327.25,418.60 338.70,416.40 350.15,420.30" fill="none" stroke="#f6a24a" stroke-width="0.72"/>
<polyline points="247.10,430.00 258.55,427.00 270.00,430.00 281.45,431.00 292.90,436.00 304.35,440.40 315.80,412.00 327.25,418.00 338.70,416.90 350.15,420.00" fill="none" stroke="#94e27c" stroke-width="0.72"/>
<polyline points="247.10,427.00 258.55,426.00 270.00,427.00 281.45,418.60 292.90,432.00 304.35,429.70 315.80,409.50 327.25,407.10 338.70,404.50 350.15,403.70" fill="none" stroke="#4cc9a0" stroke-width="0.72"/>
<polyline points="247.10,430.00 258.55,425.00 270.00,425.00 281.45,431.00 292.90,433.20 304.35,428.00 315.80,410.00 327.25,415.20 338.70,412.90 350.15,416.00" fill="none" stroke="#36aebe" stroke-width="0.72"/>
<polyline points="247.10,421.50 258.55,428.90 270.00,429.70 281.45,434.00 292.90,439.70 304.35,431.80 315.80,413.10 327.25,426.30 338.70,426.70 350.15,424.30" fill="none" stroke="#4a4af5" stroke-width="0.72"/>
<polyline points="247.10,423.70 258.55,423.20 270.00,421.50 281.45,434.90 292.90,458.90 304.35,459.80 315.80,457.70 327.25,453.80 338.70,455.10 350.15,442.60" fill="none" stroke="#7b3b8b" stroke-width="0.72"/>
<path d="M247.10,428.48L247.78,429.32L248.62,430.00L247.78,430.68L247.10,431.52L246.42,430.68L245.58,430.00L246.42,429.32Z" fill="#111"/>
<path d="M258.55,426.48L259.23,427.32L260.07,428.00L259.23,428.68L258.55,429.52L257.87,428.68L257.03,428.00L257.87,427.32Z" fill="#111"/>
<path d="M270.00,431.48L270.68,432.32L271.52,433.00L270.68,433.68L270.00,434.52L269.32,433.68L268.48,433.00L269.32,432.32Z" fill="#111"/>
<path d="M281.45,417.08L282.13,417.92L282.97,418.60L282.13,419.28L281.45,420.12L280.77,419.28L279.93,418.60L280.77,417.92Z" fill="#111"/>
<path d="M292.90,435.98L293.58,436.82L294.42,437.50L293.58,438.18L292.90,439.02L292.22,438.18L291.38,437.50L292.22,436.82Z" fill="#111"/>
<path d="M304.35,432.48L305.03,433.32L305.87,434.00L305.03,434.68L304.35,435.52L303.67,434.68L302.83,434.00L303.67,433.32Z" fill="#111"/>
<path d="M315.80,409.48L316.48,410.32L317.32,411.00L316.48,411.68L315.80,412.52L315.12,411.68L314.28,411.00L315.12,410.32Z" fill="#111"/>
<path d="M327.25,417.08L327.93,417.92L328.77,418.60L327.93,419.28L327.25,420.12L326.57,419.28L325.73,418.60L326.57,417.92Z" fill="#111"/>
<path d="M338.70,414.88L339.38,415.72L340.22,416.40L339.38,417.08L338.70,417.92L338.02,417.08L337.18,416.40L338.02,415.72Z" fill="#111"/>
<path d="M350.15,418.78L350.83,419.62L351.67,420.30L350.83,420.98L350.15,421.82L349.47,420.98L348.63,420.30L349.47,419.62Z" fill="#111"/>
<path d="M245.58,428.48L248.62,431.52M245.58,431.52L248.62,428.48" stroke="#444" stroke-width="0.75" fill="none"/>
<path d="M257.03,425.48L260.07,428.52M257.03,428.52L260.07,425.48" stroke="#444" stroke-width="0.75" fill="none"/>
<path d="M268.48,428.48L271.52,431.52M268.48,431.52L271.52,428.48" stroke="#444" stroke-width="0.75" fill="none"/>
<path d="M279.93,429.48L282.97,432.52M279.93,432.52L282.97,429.48" stroke="#444" stroke-width="0.75" fill="none"/>
<path d="M291.38,434.48L294.42,437.52M291.38,437.52L294.42,434.48" stroke="#444" stroke-width="0.75" fill="none"/>
<path d="M302.83,438.88L305.87,441.92M302.83,441.92L305.87,438.88" stroke="#444" stroke-width="0.75" fill="none"/>
<path d="M314.28,410.48L317.32,413.52M314.28,413.52L317.32,410.48" stroke="#444" stroke-width="0.75" fill="none"/>
<path d="M325.73,416.48L328.77,419.52M325.73,419.52L328.77,416.48" stroke="#444" stroke-width="0.75" fill="none"/>
<path d="M337.18,415.38L340.22,418.42M337.18,418.42L340.22,415.38" stroke="#444" stroke-width="0.75" fill="none"/>
<path d="M348.63,418.48L351.67,421.52M348.63,421.52L351.67,418.48" stroke="#444" stroke-width="0.75" fill="none"/>
<path d="M247.10,425.32L248.78,427.00L247.10,428.68L245.42,427.00Z" fill="#1f9a6e" stroke="#104030" stroke-width="0.4"/>
<path d="M258.55,424.32L260.23,426.00L258.55,427.68L256.87,426.00Z" fill="#1f9a6e" stroke="#104030" stroke-width="0.4"/>
<path d="M270.00,425.32L271.68,427.00L270.00,428.68L268.32,427.00Z" fill="#1f9a6e" stroke="#104030" stroke-width="0.4"/>
<path d="M281.45,416.92L283.13,418.60L281.45,420.28L279.77,418.60Z" fill="#1f9a6e" stroke="#104030" stroke-width="0.4"/>
<path d="M292.90,430.32L294.58,432.00L292.90,433.68L291.22,432.00Z" fill="#1f9a6e" stroke="#104030" stroke-width="0.4"/>
<path d="M304.35,428.02L306.03,429.70L304.35,431.38L302.67,429.70Z" fill="#1f9a6e" stroke="#104030" stroke-width="0.4"/>
<path d="M315.80,407.82L317.48,409.50L315.80,411.18L314.12,409.50Z" fill="#1f9a6e" stroke="#104030" stroke-width="0.4"/>
<path d="M327.25,405.42L328.93,407.10L327.25,408.78L325.57,407.10Z" fill="#1f9a6e" stroke="#104030" stroke-width="0.4"/>
<path d="M338.70,402.82L340.38,404.50L338.70,406.18L337.02,404.50Z" fill="#1f9a6e" stroke="#104030" stroke-width="0.4"/>
<path d="M350.15,402.02L351.83,403.70L350.15,405.38L348.47,403.70Z" fill="#1f9a6e" stroke="#104030" stroke-width="0.4"/>
<path d="M245.42,428.72L248.78,428.72L247.10,431.76Z" fill="#1f6f78" stroke="#0e3338" stroke-width="0.4"/>
<path d="M256.87,423.72L260.23,423.72L258.55,426.76Z" fill="#1f6f78" stroke="#0e3338" stroke-width="0.4"/>
<path d="M268.32,423.72L271.68,423.72L270.00,426.76Z" fill="#1f6f78" stroke="#0e3338" stroke-width="0.4"/>
<path d="M279.77,429.72L283.13,429.72L281.45,432.76Z" fill="#1f6f78" stroke="#0e3338" stroke-width="0.4"/>
<path d="M291.22,431.92L294.58,431.92L292.90,434.96Z" fill="#1f6f78" stroke="#0e3338" stroke-width="0.4"/>
<path d="M302.67,426.72L306.03,426.72L304.35,429.76Z" fill="#1f6f78" stroke="#0e3338" stroke-width="0.4"/>
<path d="M314.12,408.72L317.48,408.72L315.80,411.76Z" fill="#1f6f78" stroke="#0e3338" stroke-width="0.4"/>
<path d="M325.57,413.92L328.93,413.92L327.25,416.96Z" fill="#1f6f78" stroke="#0e3338" stroke-width="0.4"/>
<path d="M337.02,411.62L340.38,411.62L338.70,414.66Z" fill="#1f6f78" stroke="#0e3338" stroke-width="0.4"/>
<path d="M348.47,414.72L351.83,414.72L350.15,417.76Z" fill="#1f6f78" stroke="#0e3338" stroke-width="0.4"/>
<rect x="245.50" y="419.90" width="3.20" height="3.20" fill="#1414f0" stroke="#0a0aa0" stroke-width="0.3"/>
<rect x="256.95" y="427.30" width="3.20" height="3.20" fill="#1414f0" stroke="#0a0aa0" stroke-width="0.3"/>
<rect x="268.40" y="428.10" width="3.20" height="3.20" fill="#1414f0" stroke="#0a0aa0" stroke-width="0.3"/>
<rect x="279.85" y="432.40" width="3.20" height="3.20" fill="#1414f0" stroke="#0a0aa0" stroke-width="0.3"/>
<rect x="291.30" y="438.10" width="3.20" height="3.20" fill="#1414f0" stroke="#0a0aa0" stroke-width="0.3"/>
<rect x="302.75" y="430.20" width="3.20" height="3.20" fill="#1414f0" stroke="#0a0aa0" stroke-width="0.3"/>
<rect x="314.20" y="411.50" width="3.20" height="3.20" fill="#1414f0" stroke="#0a0aa0" stroke-width="0.3"/>
<rect x="325.65" y="424.70" width="3.20" height="3.20" fill="#1414f0" stroke="#0a0aa0" stroke-width="0.3"/>
<rect x="337.10" y="425.10" width="3.20" height="3.20" fill="#1414f0" stroke="#0a0aa0" stroke-width="0.3"/>
<rect x="348.55" y="422.70" width="3.20" height="3.20" fill="#1414f0" stroke="#0a0aa0" stroke-width="0.3"/>
<circle cx="247.10" cy="423.70" r="1.52" fill="#4d0a59" stroke="#2a0030" stroke-width="0.4"/>
<circle cx="258.55" cy="423.20" r="1.52" fill="#4d0a59" stroke="#2a0030" stroke-width="0.4"/>
<circle cx="270.00" cy="421.50" r="1.52" fill="#4d0a59" stroke="#2a0030" stroke-width="0.4"/>
<circle cx="281.45" cy="434.90" r="1.52" fill="#4d0a59" stroke="#2a0030" stroke-width="0.4"/>
<circle cx="292.90" cy="458.90" r="1.52" fill="#4d0a59" stroke="#2a0030" stroke-width="0.4"/>
<circle cx="304.35" cy="459.80" r="1.52" fill="#4d0a59" stroke="#2a0030" stroke-width="0.4"/>
<circle cx="315.80" cy="457.70" r="1.52" fill="#4d0a59" stroke="#2a0030" stroke-width="0.4"/>
<circle cx="327.25" cy="453.80" r="1.52" fill="#4d0a59" stroke="#2a0030" stroke-width="0.4"/>
<circle cx="338.70" cy="455.10" r="1.52" fill="#4d0a59" stroke="#2a0030" stroke-width="0.4"/>
<circle cx="350.15" cy="442.60" r="1.52" fill="#4d0a59" stroke="#2a0030" stroke-width="0.4"/>
<line x1="424.30" y1="390.40" x2="424.30" y2="465.60" stroke="#5e5e5e" stroke-width="1.25"/>
<line x1="423.80" y1="465.10" x2="535.30" y2="465.10" stroke="#151515" stroke-width="1.15"/>
<line x1="421.20" y1="390.90" x2="424.30" y2="390.90" stroke="#333" stroke-width="0.9"/>
<text x="420.20" y="392.70" font-size="5.4" text-anchor="end" font-weight="bold" fill="#2a2a2a" stroke="#2a2a2a" stroke-width="0.25" textLength="19.5" lengthAdjust="spacing">1.5•10<tspan font-size="3.5" dy="-1.9" dx="0.2">5</tspan></text>
<line x1="421.20" y1="415.60" x2="424.30" y2="415.60" stroke="#333" stroke-width="0.9"/>
<text x="420.20" y="417.40" font-size="5.4" text-anchor="end" font-weight="bold" fill="#2a2a2a" stroke="#2a2a2a" stroke-width="0.25" textLength="14.8" lengthAdjust="spacing">1•10<tspan font-size="3.5" dy="-1.9" dx="0.2">5</tspan></text>
<line x1="421.20" y1="440.40" x2="424.30" y2="440.40" stroke="#333" stroke-width="0.9"/>
<text x="420.20" y="442.20" font-size="5.4" text-anchor="end" font-weight="bold" fill="#2a2a2a" stroke="#2a2a2a" stroke-width="0.25" textLength="14.5" lengthAdjust="spacing">5•10<tspan font-size="3.5" dy="-1.9" dx="0.2">4</tspan></text>
<line x1="421.20" y1="465.10" x2="424.30" y2="465.10" stroke="#333" stroke-width="0.9"/>
<text x="420.70" y="466.90" font-size="5.4" text-anchor="end" font-weight="bold" fill="#2a2a2a" stroke="#2a2a2a" stroke-width="0.25">0</text>
<line x1="430.00" y1="465.10" x2="430.00" y2="468.20" stroke="#333" stroke-width="0.9"/>
<text x="0" y="0" font-size="5.7" text-anchor="end" font-weight="bold" fill="#222" stroke="#222" stroke-width="0.15" transform="translate(431.55,473.60) rotate(-45)">C_I</text>
<line x1="441.10" y1="465.10" x2="441.10" y2="468.20" stroke="#333" stroke-width="0.9"/>
<text x="0" y="0" font-size="5.7" text-anchor="end" font-weight="bold" fill="#222" stroke="#222" stroke-width="0.15" transform="translate(442.65,473.60) rotate(-45)">C_II</text>
<line x1="452.20" y1="465.10" x2="452.20" y2="468.20" stroke="#333" stroke-width="0.9"/>
<text x="0" y="0" font-size="5.7" text-anchor="end" font-weight="bold" fill="#222" stroke="#222" stroke-width="0.15" transform="translate(453.75,473.60) rotate(-45)">CLI</text>
<line x1="463.30" y1="465.10" x2="463.30" y2="468.20" stroke="#333" stroke-width="0.9"/>
<text x="0" y="0" font-size="5.7" text-anchor="end" font-weight="bold" fill="#222" stroke="#222" stroke-width="0.15" transform="translate(464.85,473.60) rotate(-45)">CDI_I</text>
<line x1="474.40" y1="465.10" x2="474.40" y2="468.20" stroke="#333" stroke-width="0.9"/>
<text x="0" y="0" font-size="5.7" text-anchor="end" font-weight="bold" fill="#222" stroke="#222" stroke-width="0.15" transform="translate(475.95,473.60) rotate(-45)">CDI_II</text>
<line x1="485.50" y1="465.10" x2="485.50" y2="468.20" stroke="#333" stroke-width="0.9"/>
<text x="0" y="0" font-size="5.7" text-anchor="end" font-weight="bold" fill="#222" stroke="#222" stroke-width="0.15" transform="translate(487.05,473.60) rotate(-45)">CDI_III</text>
<line x1="496.60" y1="465.10" x2="496.60" y2="468.20" stroke="#333" stroke-width="0.9"/>
<text x="0" y="0" font-size="5.7" text-anchor="end" font-weight="bold" fill="#222" stroke="#222" stroke-width="0.15" transform="translate(498.15,473.60) rotate(-45)">VNC</text>
<line x1="507.70" y1="465.10" x2="507.70" y2="468.20" stroke="#333" stroke-width="0.9"/>
<text x="0" y="0" font-size="5.7" text-anchor="end" font-weight="bold" fill="#222" stroke="#222" stroke-width="0.15" transform="translate(509.25,473.60) rotate(-45)">PI_I</text>
<line x1="518.80" y1="465.10" x2="518.80" y2="468.20" stroke="#333" stroke-width="0.9"/>
<text x="0" y="0" font-size="5.7" text-anchor="end" font-weight="bold" fill="#222" stroke="#222" stroke-width="0.15" transform="translate(520.35,473.60) rotate(-45)">PI_II</text>
<line x1="529.90" y1="465.10" x2="529.90" y2="468.20" stroke="#333" stroke-width="0.9"/>
<text x="0" y="0" font-size="5.7" text-anchor="end" font-weight="bold" fill="#222" stroke="#222" stroke-width="0.15" transform="translate(531.45,473.60) rotate(-45)">PI_III</text>
<text x="0" y="0" font-size="5.7" text-anchor="middle" font-weight="bold" font-style="normal" fill="#222" stroke="#222" stroke-width="0.12" transform="translate(386.90,428.00) rotate(-90)">Akkermansia</text>
<text x="0" y="0" font-size="5.95" text-anchor="middle" font-weight="bold" fill="#222" stroke="#222" stroke-width="0.12" transform="translate(393.50,428.00) rotate(-90)">copies/mL log units</text>
<path d="M441.10,411.40V420.00M439.80,411.40H442.40M439.80,420.00H442.40" stroke="#4cc9a0" stroke-width="0.6" fill="none"/>
<path d="M430.00,424.30V427.40M428.70,424.30H431.30M428.70,427.40H431.30" stroke="#36aebe" stroke-width="0.6" fill="none"/>
<path d="M452.20,418.60V425.00M450.90,418.60H453.50M450.90,425.00H453.50" stroke="#7b3b8b" stroke-width="0.6" fill="none"/>
<path d="M452.20,443.00V447.10M450.90,443.00H453.50M450.90,447.10H453.50" stroke="#94e27c" stroke-width="0.6" fill="none"/>
<path d="M463.30,408.60V412.90M462.00,408.60H464.60M462.00,412.90H464.60" stroke="#94e27c" stroke-width="0.6" fill="none"/>
<path d="M485.50,399.30V405.00M484.20,399.30H486.80M484.20,405.00H486.80" stroke="#36aebe" stroke-width="0.6" fill="none"/>
<path d="M474.40,398.00V412.00M473.10,398.00H475.70M473.10,412.00H475.70" stroke="#4cc9a0" stroke-width="0.6" fill="none"/>
<path d="M518.80,427.50V435.40M517.50,427.50H520.10M517.50,435.40H520.10" stroke="#4a4af5" stroke-width="0.6" fill="none"/>
<path d="M518.80,420.70V425.70M517.50,420.70H520.10M517.50,425.70H520.10" stroke="#7b3b8b" stroke-width="0.6" fill="none"/>
<path d="M518.80,447.90V452.10M517.50,447.90H520.10M517.50,452.10H520.10" stroke="#4cc9a0" stroke-width="0.6" fill="none"/>
<path d="M507.70,430.00V435.70M506.40,430.00H509.00M506.40,435.70H509.00" stroke="#4cc9a0" stroke-width="0.6" fill="none"/>
<path d="M529.90,413.60V416.00M528.60,413.60H531.20M528.60,416.00H531.20" stroke="#7b3b8b" stroke-width="0.6" fill="none"/>
<path d="M529.90,422.50V426.90M528.60,422.50H531.20M528.60,426.90H531.20" stroke="#f6a24a" stroke-width="0.6" fill="none"/>
<path d="M496.60,456.90V459.00M495.30,456.90H497.90M495.30,459.00H497.90" stroke="#36aebe" stroke-width="0.6" fill="none"/>
<polyline points="430.00,434.00 441.10,428.00 452.20,441.40 463.30,436.00 474.40,418.60 485.50,427.40 496.60,455.00 507.70,444.30 518.80,446.40 529.90,426.90" fill="none" stroke="#f6a24a" stroke-width="0.72"/>
<polyline points="430.00,436.00 441.10,430.00 452.20,443.60 463.30,410.70 474.40,420.70 485.50,420.70 496.60,450.00 507.70,434.00 518.80,444.00 529.90,435.00" fill="none" stroke="#94e27c" stroke-width="0.72"/>
<polyline points="430.00,433.00 441.10,416.10 452.20,433.00 463.30,434.30 474.40,435.70 485.50,418.60 496.60,447.10 507.70,435.70 518.80,447.90 529.90,437.10" fill="none" stroke="#4cc9a0" stroke-width="0.72"/>
<polyline points="430.00,427.40 441.10,428.00 452.20,432.00 463.30,431.00 474.40,415.70 485.50,405.00 496.60,456.90 507.70,433.50 518.80,440.70 529.90,432.90" fill="none" stroke="#36aebe" stroke-width="0.72"/>
<polyline points="430.00,432.40 441.10,428.60 452.20,430.70 463.30,429.30 474.40,401.10 485.50,439.20 496.60,452.90 507.70,440.70 518.80,431.10 529.90,418.60" fill="none" stroke="#4a4af5" stroke-width="0.72"/>
<polyline points="430.00,433.90 441.10,434.30 452.20,422.10 463.30,423.60 474.40,410.70 485.50,416.10 496.60,401.10 507.70,424.60 518.80,424.60 529.90,415.70" fill="none" stroke="#7b3b8b" stroke-width="0.72"/>
<path d="M430.00,432.48L430.68,433.32L431.52,434.00L430.68,434.68L430.00,435.52L429.32,434.68L428.48,434.00L429.32,433.32Z" fill="#111"/>
<path d="M441.10,426.48L441.78,427.32L442.62,428.00L441.78,428.68L441.10,429.52L440.42,428.68L439.58,428.00L440.42,427.32Z" fill="#111"/>
<path d="M452.20,439.88L452.88,440.72L453.72,441.40L452.88,442.08L452.20,442.92L451.52,442.08L450.68,441.40L451.52,440.72Z" fill="#111"/>
<path d="M463.30,434.48L463.98,435.32L464.82,436.00L463.98,436.68L463.30,437.52L462.62,436.68L461.78,436.00L462.62,435.32Z" fill="#111"/>
<path d="M474.40,417.08L475.08,417.92L475.92,418.60L475.08,419.28L474.40,420.12L473.72,419.28L472.88,418.60L473.72,417.92Z" fill="#111"/>
<path d="M485.50,425.88L486.18,426.72L487.02,427.40L486.18,428.08L485.50,428.92L484.82,428.08L483.98,427.40L484.82,426.72Z" fill="#111"/>
<path d="M496.60,453.48L497.28,454.32L498.12,455.00L497.28,455.68L496.60,456.52L495.92,455.68L495.08,455.00L495.92,454.32Z" fill="#111"/>
<path d="M507.70,442.78L508.38,443.62L509.22,444.30L508.38,444.98L507.70,445.82L507.02,444.98L506.18,444.30L507.02,443.62Z" fill="#111"/>
<path d="M518.80,444.88L519.48,445.72L520.32,446.40L519.48,447.08L518.80,447.92L518.12,447.08L517.28,446.40L518.12,445.72Z" fill="#111"/>
<path d="M529.90,425.38L530.58,426.22L531.42,426.90L530.58,427.58L529.90,428.42L529.22,427.58L528.38,426.90L529.22,426.22Z" fill="#111"/>
<path d="M428.48,434.48L431.52,437.52M428.48,437.52L431.52,434.48" stroke="#444" stroke-width="0.75" fill="none"/>
<path d="M439.58,428.48L442.62,431.52M439.58,431.52L442.62,428.48" stroke="#444" stroke-width="0.75" fill="none"/>
<path d="M450.68,442.08L453.72,445.12M450.68,445.12L453.72,442.08" stroke="#444" stroke-width="0.75" fill="none"/>
<path d="M461.78,409.18L464.82,412.22M461.78,412.22L464.82,409.18" stroke="#444" stroke-width="0.75" fill="none"/>
<path d="M472.88,419.18L475.92,422.22M472.88,422.22L475.92,419.18" stroke="#444" stroke-width="0.75" fill="none"/>
<path d="M483.98,419.18L487.02,422.22M483.98,422.22L487.02,419.18" stroke="#444" stroke-width="0.75" fill="none"/>
<path d="M495.08,448.48L498.12,451.52M495.08,451.52L498.12,448.48" stroke="#444" stroke-width="0.75" fill="none"/>
<path d="M506.18,432.48L509.22,435.52M506.18,435.52L509.22,432.48" stroke="#444" stroke-width="0.75" fill="none"/>
<path d="M517.28,442.48L520.32,445.52M517.28,445.52L520.32,442.48" stroke="#444" stroke-width="0.75" fill="none"/>
<path d="M528.38,433.48L531.42,436.52M528.38,436.52L531.42,433.48" stroke="#444" stroke-width="0.75" fill="none"/>
<path d="M430.00,431.32L431.68,433.00L430.00,434.68L428.32,433.00Z" fill="#1f9a6e" stroke="#104030" stroke-width="0.4"/>
<path d="M441.10,414.42L442.78,416.10L441.10,417.78L439.42,416.10Z" fill="#1f9a6e" stroke="#104030" stroke-width="0.4"/>
<path d="M452.20,431.32L453.88,433.00L452.20,434.68L450.52,433.00Z" fill="#1f9a6e" stroke="#104030" stroke-width="0.4"/>
<path d="M463.30,432.62L464.98,434.30L463.30,435.98L461.62,434.30Z" fill="#1f9a6e" stroke="#104030" stroke-width="0.4"/>
<path d="M474.40,434.02L476.08,435.70L474.40,437.38L472.72,435.70Z" fill="#1f9a6e" stroke="#104030" stroke-width="0.4"/>
<path d="M485.50,416.92L487.18,418.60L485.50,420.28L483.82,418.60Z" fill="#1f9a6e" stroke="#104030" stroke-width="0.4"/>
<path d="M496.60,445.42L498.28,447.10L496.60,448.78L494.92,447.10Z" fill="#1f9a6e" stroke="#104030" stroke-width="0.4"/>
<path d="M507.70,434.02L509.38,435.70L507.70,437.38L506.02,435.70Z" fill="#1f9a6e" stroke="#104030" stroke-width="0.4"/>
<path d="M518.80,446.22L520.48,447.90L518.80,449.58L517.12,447.90Z" fill="#1f9a6e" stroke="#104030" stroke-width="0.4"/>
<path d="M529.90,435.42L531.58,437.10L529.90,438.78L528.22,437.10Z" fill="#1f9a6e" stroke="#104030" stroke-width="0.4"/>
<path d="M428.32,426.12L431.68,426.12L430.00,429.16Z" fill="#1f6f78" stroke="#0e3338" stroke-width="0.4"/>
<path d="M439.42,426.72L442.78,426.72L441.10,429.76Z" fill="#1f6f78" stroke="#0e3338" stroke-width="0.4"/>
<path d="M450.52,430.72L453.88,430.72L452.20,433.76Z" fill="#1f6f78" stroke="#0e3338" stroke-width="0.4"/>
<path d="M461.62,429.72L464.98,429.72L463.30,432.76Z" fill="#1f6f78" stroke="#0e3338" stroke-width="0.4"/>
<path d="M472.72,414.42L476.08,414.42L474.40,417.46Z" fill="#1f6f78" stroke="#0e3338" stroke-width="0.4"/>
<path d="M483.82,403.72L487.18,403.72L485.50,406.76Z" fill="#1f6f78" stroke="#0e3338" stroke-width="0.4"/>
<path d="M494.92,455.62L498.28,455.62L496.60,458.66Z" fill="#1f6f78" stroke="#0e3338" stroke-width="0.4"/>
<path d="M506.02,432.22L509.38,432.22L507.70,435.26Z" fill="#1f6f78" stroke="#0e3338" stroke-width="0.4"/>
<path d="M517.12,439.42L520.48,439.42L518.80,442.46Z" fill="#1f6f78" stroke="#0e3338" stroke-width="0.4"/>
<path d="M528.22,431.62L531.58,431.62L529.90,434.66Z" fill="#1f6f78" stroke="#0e3338" stroke-width="0.4"/>
<rect x="428.40" y="430.80" width="3.20" height="3.20" fill="#1414f0" stroke="#0a0aa0" stroke-width="0.3"/>
<rect x="439.50" y="427.00" width="3.20" height="3.20" fill="#1414f0" stroke="#0a0aa0" stroke-width="0.3"/>
<rect x="450.60" y="429.10" width="3.20" height="3.20" fill="#1414f0" stroke="#0a0aa0" stroke-width="0.3"/>
<rect x="461.70" y="427.70" width="3.20" height="3.20" fill="#1414f0" stroke="#0a0aa0" stroke-width="0.3"/>
<rect x="472.80" y="399.50" width="3.20" height="3.20" fill="#1414f0" stroke="#0a0aa0" stroke-width="0.3"/>
<rect x="483.90" y="437.60" width="3.20" height="3.20" fill="#1414f0" stroke="#0a0aa0" stroke-width="0.3"/>
<rect x="495.00" y="451.30" width="3.20" height="3.20" fill="#1414f0" stroke="#0a0aa0" stroke-width="0.3"/>
<rect x="506.10" y="439.10" width="3.20" height="3.20" fill="#1414f0" stroke="#0a0aa0" stroke-width="0.3"/>
<rect x="517.20" y="429.50" width="3.20" height="3.20" fill="#1414f0" stroke="#0a0aa0" stroke-width="0.3"/>
<rect x="528.30" y="417.00" width="3.20" height="3.20" fill="#1414f0" stroke="#0a0aa0" stroke-width="0.3"/>
<circle cx="430.00" cy="433.90" r="1.52" fill="#4d0a59" stroke="#2a0030" stroke-width="0.4"/>
<circle cx="441.10" cy="434.30" r="1.52" fill="#4d0a59" stroke="#2a0030" stroke-width="0.4"/>
<circle cx="452.20" cy="422.10" r="1.52" fill="#4d0a59" stroke="#2a0030" stroke-width="0.4"/>
<circle cx="463.30" cy="423.60" r="1.52" fill="#4d0a59" stroke="#2a0030" stroke-width="0.4"/>
<circle cx="474.40" cy="410.70" r="1.52" fill="#4d0a59" stroke="#2a0030" stroke-width="0.4"/>
<circle cx="485.50" cy="416.10" r="1.52" fill="#4d0a59" stroke="#2a0030" stroke-width="0.4"/>
<circle cx="496.60" cy="401.10" r="1.52" fill="#4d0a59" stroke="#2a0030" stroke-width="0.4"/>
<circle cx="507.70" cy="424.60" r="1.52" fill="#4d0a59" stroke="#2a0030" stroke-width="0.4"/>
<circle cx="518.80" cy="424.60" r="1.52" fill="#4d0a59" stroke="#2a0030" stroke-width="0.4"/>
<circle cx="529.90" cy="415.70" r="1.52" fill="#4d0a59" stroke="#2a0030" stroke-width="0.4"/>
<line x1="120.9" y1="515.0" x2="131.8" y2="515.0" stroke="#7b3b8b" stroke-width="0.9"/>
<circle cx="126.35" cy="515.00" r="1.99" fill="#4d0a59" stroke="#2a0030" stroke-width="0.4"/>
<text x="138.20" y="518.00" font-size="8.2" text-anchor="start" font-weight="normal" font-style="normal" fill="#111" >CTRL</text>
<line x1="176.6" y1="515.0" x2="187.5" y2="515.0" stroke="#4a4af5" stroke-width="0.9"/>
<rect x="179.95" y="512.90" width="4.20" height="4.20" fill="#1414f0" stroke="#0a0aa0" stroke-width="0.3"/>
<text x="194.00" y="518.00" font-size="8.2" text-anchor="start" font-weight="normal" font-style="normal" fill="#111" >AB</text>
<line x1="223.3" y1="515.0" x2="234.2" y2="515.0" stroke="#36aebe" stroke-width="0.9"/>
<path d="M226.54,513.32L230.96,513.32L228.75,517.31Z" fill="#1f6f78" stroke="#0e3338" stroke-width="0.4"/>
<text x="240.60" y="518.00" font-size="8.2" text-anchor="start" font-weight="normal" font-style="normal" fill="#111" >LAC5V0</text>
<line x1="286.6" y1="515.0" x2="298.4" y2="515.0" stroke="#4cc9a0" stroke-width="0.9"/>
<path d="M292.50,512.79L294.70,515.00L292.50,517.21L290.30,515.00Z" fill="#1f9a6e" stroke="#104030" stroke-width="0.4"/>
<text x="304.60" y="518.00" font-size="8.2" text-anchor="start" font-weight="normal" font-style="normal" fill="#111" >LAC10V0</text>
<line x1="351.8" y1="515.0" x2="363.2" y2="515.0" stroke="#94e27c" stroke-width="0.9"/>
<path d="M355.50,513.00L359.50,517.00M355.50,517.00L359.50,513.00" stroke="#444" stroke-width="0.75" fill="none"/>
<text x="368.80" y="518.00" font-size="8.2" text-anchor="start" font-weight="normal" font-style="normal" fill="#111" >LAC5V1</text>
<line x1="412.5" y1="515.0" x2="423.9" y2="515.0" stroke="#f6a24a" stroke-width="0.9"/>
<path d="M418.20,513.00L419.10,514.10L420.19,515.00L419.10,515.90L418.20,517.00L417.30,515.90L416.20,515.00L417.30,514.10Z" fill="#111"/>
<text x="430.10" y="518.00" font-size="8.2" text-anchor="start" font-weight="normal" font-style="normal" fill="#111" >LAC10V1</text>
</svg>
</body></html>
